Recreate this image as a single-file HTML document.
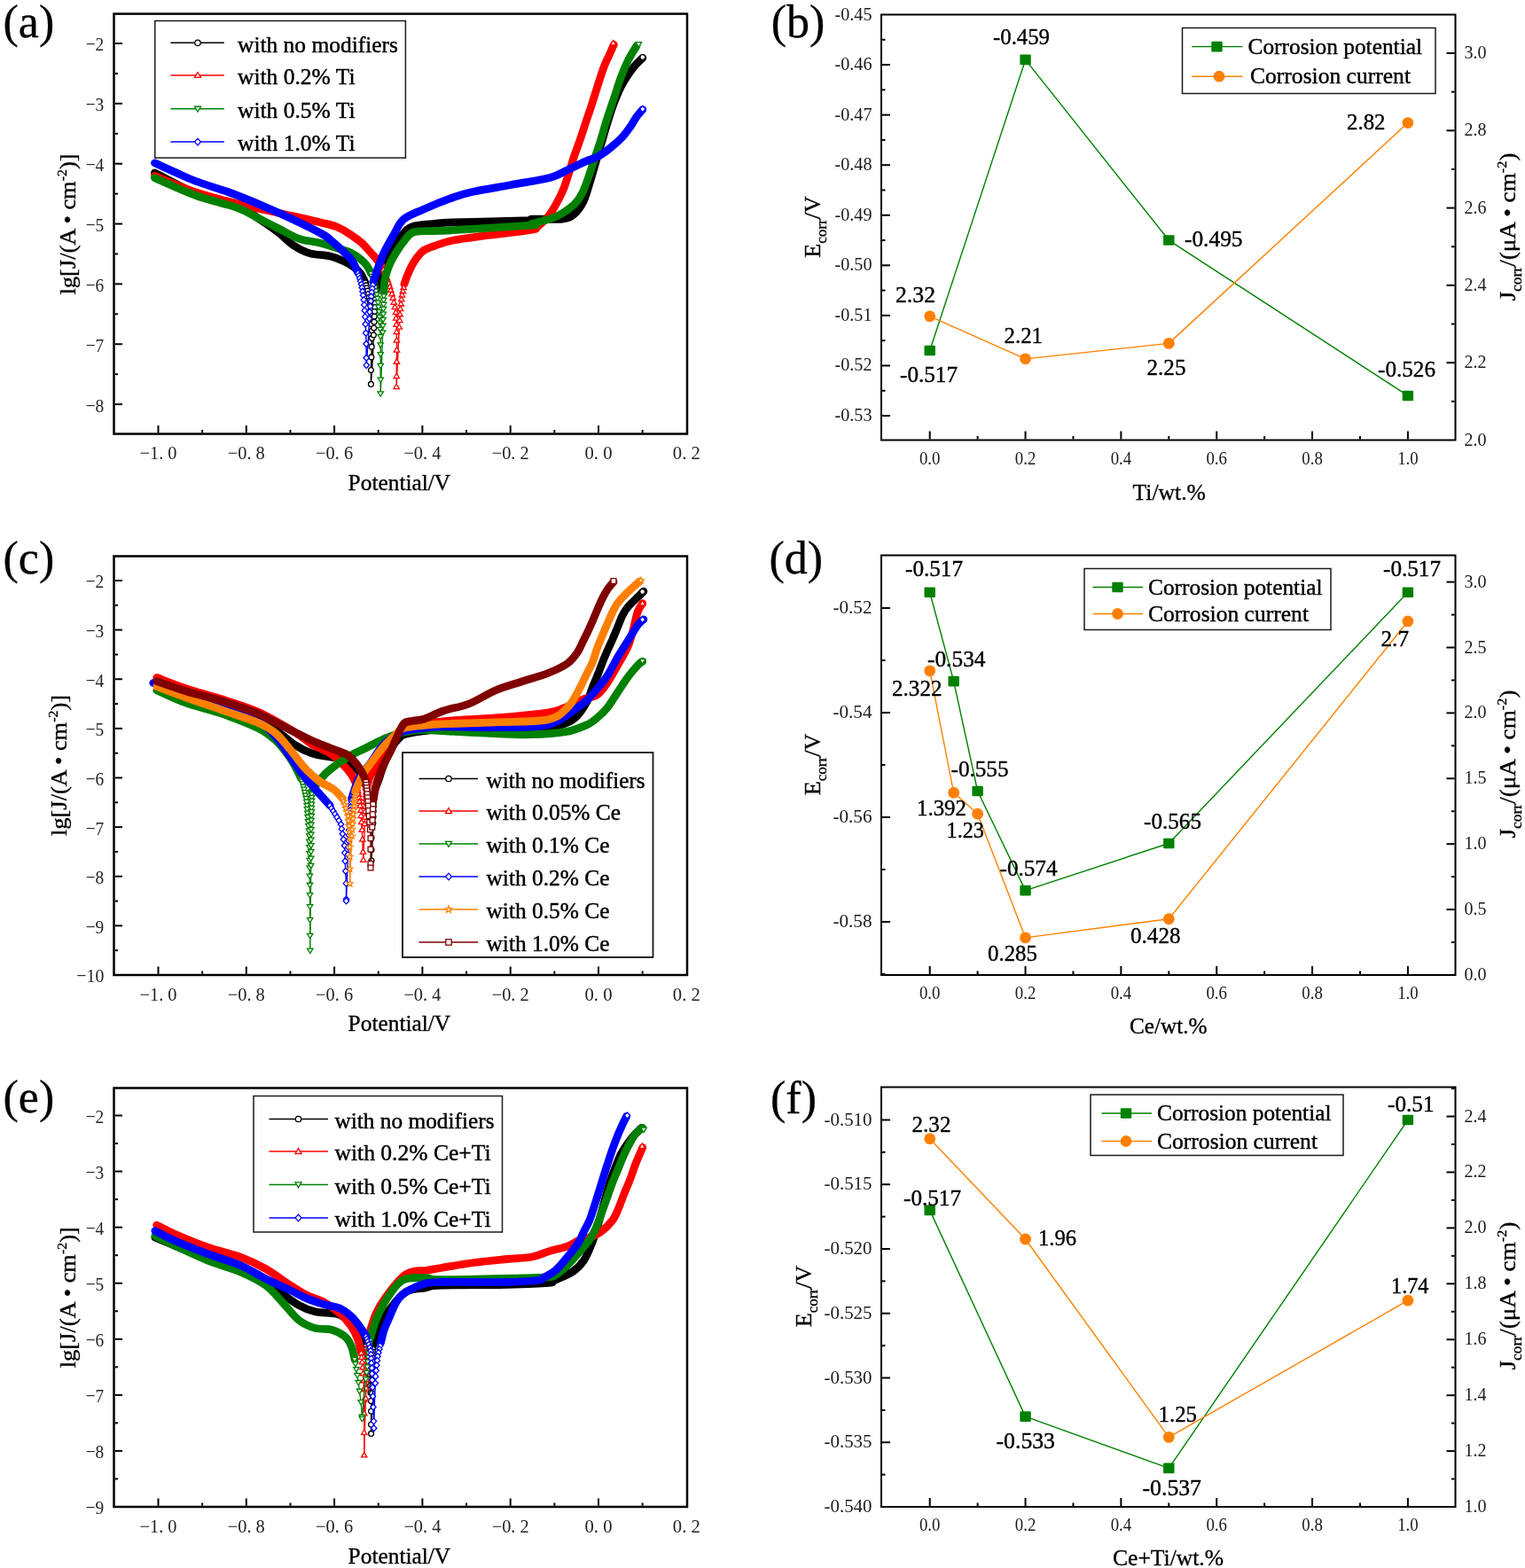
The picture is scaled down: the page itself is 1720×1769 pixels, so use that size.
<!DOCTYPE html><html><head><meta charset="utf-8"><style>html,body{margin:0;padding:0;background:#fff;}svg{display:block;}</style></head><body><svg width="1720" height="1769" viewBox="0 0 1720 1769"><rect x="128.5" y="15.6" width="646.5" height="473.9" fill="none" stroke="#000" stroke-width="2.5"/><line x1="129.7" y1="456.1" x2="138" y2="456.1" stroke="#000" stroke-width="2"/><text x="117.3" y="464.5" font-size="22" font-family="'Liberation Serif', 'Times New Roman', serif" fill="#222" text-anchor="end" textLength="20.6" lengthAdjust="spacingAndGlyphs">−8</text><line x1="129.7" y1="422.17" x2="133" y2="422.17" stroke="#000" stroke-width="2"/><line x1="129.7" y1="388.25" x2="138" y2="388.25" stroke="#000" stroke-width="2"/><text x="117.3" y="396.65" font-size="22" font-family="'Liberation Serif', 'Times New Roman', serif" fill="#222" text-anchor="end" textLength="20.6" lengthAdjust="spacingAndGlyphs">−7</text><line x1="129.7" y1="354.32" x2="133" y2="354.32" stroke="#000" stroke-width="2"/><line x1="129.7" y1="320.4" x2="138" y2="320.4" stroke="#000" stroke-width="2"/><text x="117.3" y="328.8" font-size="22" font-family="'Liberation Serif', 'Times New Roman', serif" fill="#222" text-anchor="end" textLength="20.6" lengthAdjust="spacingAndGlyphs">−6</text><line x1="129.7" y1="286.47" x2="133" y2="286.47" stroke="#000" stroke-width="2"/><line x1="129.7" y1="252.55" x2="138" y2="252.55" stroke="#000" stroke-width="2"/><text x="117.3" y="260.95" font-size="22" font-family="'Liberation Serif', 'Times New Roman', serif" fill="#222" text-anchor="end" textLength="20.6" lengthAdjust="spacingAndGlyphs">−5</text><line x1="129.7" y1="218.62" x2="133" y2="218.62" stroke="#000" stroke-width="2"/><line x1="129.7" y1="184.7" x2="138" y2="184.7" stroke="#000" stroke-width="2"/><text x="117.3" y="193.1" font-size="22" font-family="'Liberation Serif', 'Times New Roman', serif" fill="#222" text-anchor="end" textLength="20.6" lengthAdjust="spacingAndGlyphs">−4</text><line x1="129.7" y1="150.77" x2="133" y2="150.77" stroke="#000" stroke-width="2"/><line x1="129.7" y1="116.85" x2="138" y2="116.85" stroke="#000" stroke-width="2"/><text x="117.3" y="125.25" font-size="22" font-family="'Liberation Serif', 'Times New Roman', serif" fill="#222" text-anchor="end" textLength="20.6" lengthAdjust="spacingAndGlyphs">−3</text><line x1="129.7" y1="82.92" x2="133" y2="82.92" stroke="#000" stroke-width="2"/><line x1="129.7" y1="49" x2="138" y2="49" stroke="#000" stroke-width="2"/><text x="117.3" y="57.4" font-size="22" font-family="'Liberation Serif', 'Times New Roman', serif" fill="#222" text-anchor="end" textLength="20.6" lengthAdjust="spacingAndGlyphs">−2</text><line x1="178.5" y1="488.3" x2="178.5" y2="480" stroke="#000" stroke-width="2"/><text x="178.5" y="517.8" font-size="21" font-family="'Liberation Serif', 'Times New Roman', serif" fill="#222" text-anchor="middle" textLength="42" lengthAdjust="spacingAndGlyphs">−1. 0</text><line x1="228.15" y1="488.3" x2="228.15" y2="485" stroke="#000" stroke-width="2"/><line x1="277.8" y1="488.3" x2="277.8" y2="480" stroke="#000" stroke-width="2"/><text x="277.8" y="517.8" font-size="21" font-family="'Liberation Serif', 'Times New Roman', serif" fill="#222" text-anchor="middle" textLength="42" lengthAdjust="spacingAndGlyphs">−0. 8</text><line x1="327.45" y1="488.3" x2="327.45" y2="485" stroke="#000" stroke-width="2"/><line x1="377.1" y1="488.3" x2="377.1" y2="480" stroke="#000" stroke-width="2"/><text x="377.1" y="517.8" font-size="21" font-family="'Liberation Serif', 'Times New Roman', serif" fill="#222" text-anchor="middle" textLength="42" lengthAdjust="spacingAndGlyphs">−0. 6</text><line x1="426.75" y1="488.3" x2="426.75" y2="485" stroke="#000" stroke-width="2"/><line x1="476.4" y1="488.3" x2="476.4" y2="480" stroke="#000" stroke-width="2"/><text x="476.4" y="517.8" font-size="21" font-family="'Liberation Serif', 'Times New Roman', serif" fill="#222" text-anchor="middle" textLength="42" lengthAdjust="spacingAndGlyphs">−0. 4</text><line x1="526.05" y1="488.3" x2="526.05" y2="485" stroke="#000" stroke-width="2"/><line x1="575.7" y1="488.3" x2="575.7" y2="480" stroke="#000" stroke-width="2"/><text x="575.7" y="517.8" font-size="21" font-family="'Liberation Serif', 'Times New Roman', serif" fill="#222" text-anchor="middle" textLength="42" lengthAdjust="spacingAndGlyphs">−0. 2</text><line x1="625.35" y1="488.3" x2="625.35" y2="485" stroke="#000" stroke-width="2"/><line x1="675" y1="488.3" x2="675" y2="480" stroke="#000" stroke-width="2"/><text x="675" y="517.8" font-size="21" font-family="'Liberation Serif', 'Times New Roman', serif" fill="#222" text-anchor="middle" textLength="31" lengthAdjust="spacingAndGlyphs">0. 0</text><line x1="724.65" y1="488.3" x2="724.65" y2="485" stroke="#000" stroke-width="2"/><text x="774.3" y="517.8" font-size="21" font-family="'Liberation Serif', 'Times New Roman', serif" fill="#222" text-anchor="middle" textLength="31" lengthAdjust="spacingAndGlyphs">0. 2</text><text transform="translate(85.3,253) rotate(-90)" x="0" y="0" font-size="25" font-family="'Liberation Serif', 'Times New Roman', serif" text-anchor="middle" stroke="#000" stroke-width="0.35" textLength="159" lengthAdjust="spacingAndGlyphs">lg[J/(A • cm<tspan font-size="15" dy="-10">-2</tspan><tspan dy="10">)]</tspan></text><text x="392.6" y="552.7" font-size="25.5" font-family="'Liberation Serif', 'Times New Roman', serif" fill="#000" stroke="#000" stroke-width="0.35" textLength="115.6" lengthAdjust="spacingAndGlyphs">Potential/V</text><text x="3.5" y="42" font-size="52" font-family="'Liberation Serif', 'Times New Roman', serif" fill="#000" stroke="#000" stroke-width="0.3">(a)</text><path d="M174.5,194.9 C182.25,198.75 205.5,211.82 221,218 C236.5,224.18 255.87,227.33 267.5,232 C279.13,236.67 283.05,240.95 290.8,246 C298.55,251.05 307.42,257.25 314,262.3 C320.58,267.35 324.48,272.42 330.3,276.3 C336.12,280.18 341.92,283.48 348.9,285.6 C355.88,287.72 365.6,287.45 372.2,289 C378.8,290.55 383.87,292.73 388.5,294.9 C393.13,297.07 396.92,299.65 400,302 C403.08,304.35 405,306.17 407,309 C409,311.83 411.17,317.33 412,319" fill="none" stroke="#000000" stroke-width="8.8" stroke-linejoin="round" stroke-linecap="round"/><path d="M424,328 C424.67,325.33 426.1,318.03 428,312 C429.9,305.97 432.4,297.97 435.4,291.8 C438.4,285.63 442.33,280.17 446,275 C449.67,269.83 454.02,264.08 457.4,260.8 C460.78,257.52 460.87,256.68 466.3,255.3 C471.73,253.92 482.63,253.23 490,252.5 C497.37,251.77 492.37,251.53 510.5,250.9 C528.63,250.27 583.88,249.33 598.8,248.7 C613.72,248.07 594.15,247.37 600,247.1 C605.85,246.83 625.98,248.02 633.9,247.1 C641.82,246.18 643.43,245 647.5,241.6 C651.57,238.2 655.37,232.57 658.3,226.7 C661.23,220.83 662.83,213.63 665.1,206.4 C667.37,199.17 669.63,191 671.9,183.3 C674.17,175.6 676.43,167.88 678.7,160.2 C680.97,152.52 683.23,144.43 685.5,137.2 C687.77,129.97 689.82,123.37 692.3,116.8 C694.78,110.23 697.7,103.22 700.4,97.8 C703.1,92.38 705.78,88.37 708.5,84.3 C711.22,80.23 713.98,76.57 716.7,73.4 C719.42,70.23 723.45,66.65 724.8,65.3" fill="none" stroke="#000000" stroke-width="8.8" stroke-linejoin="round" stroke-linecap="round"/><path d="M412,319 L416,333 L418.5,350 L419.5,375 L419,400 L418.4,417 L418.4,433.4 L420.3,405 L421.5,375 L422.5,350 L424,330" fill="none" stroke="#000000" stroke-width="1.4" stroke-linejoin="round" stroke-linecap="round"/><circle cx="412" cy="319" r="2.9" fill="#fff" stroke="#000000" stroke-width="1.3"/><circle cx="412.82" cy="321.88" r="2.9" fill="#fff" stroke="#000000" stroke-width="1.3"/><circle cx="413.69" cy="324.93" r="2.9" fill="#fff" stroke="#000000" stroke-width="1.3"/><circle cx="414.62" cy="328.16" r="2.9" fill="#fff" stroke="#000000" stroke-width="1.3"/><circle cx="415.6" cy="331.59" r="2.9" fill="#fff" stroke="#000000" stroke-width="1.3"/><circle cx="416.34" cy="335.31" r="2.9" fill="#fff" stroke="#000000" stroke-width="1.3"/><circle cx="416.93" cy="339.35" r="2.9" fill="#fff" stroke="#000000" stroke-width="1.3"/><circle cx="417.57" cy="343.7" r="2.9" fill="#fff" stroke="#000000" stroke-width="1.3"/><circle cx="418.27" cy="348.44" r="2.9" fill="#fff" stroke="#000000" stroke-width="1.3"/><circle cx="418.65" cy="353.65" r="2.9" fill="#fff" stroke="#000000" stroke-width="1.3"/><circle cx="418.88" cy="359.41" r="2.9" fill="#fff" stroke="#000000" stroke-width="1.3"/><circle cx="419.13" cy="365.84" r="2.9" fill="#fff" stroke="#000000" stroke-width="1.3"/><circle cx="419.42" cy="373.1" r="2.9" fill="#fff" stroke="#000000" stroke-width="1.3"/><circle cx="419.37" cy="381.42" r="2.9" fill="#fff" stroke="#000000" stroke-width="1.3"/><circle cx="419.18" cy="391.17" r="2.9" fill="#fff" stroke="#000000" stroke-width="1.3"/><circle cx="418.9" cy="402.88" r="2.9" fill="#fff" stroke="#000000" stroke-width="1.3"/><circle cx="418.4" cy="417.48" r="2.9" fill="#fff" stroke="#000000" stroke-width="1.3"/><circle cx="423.72" cy="333.68" r="2.9" fill="#fff" stroke="#000000" stroke-width="1.3"/><circle cx="423.43" cy="337.63" r="2.9" fill="#fff" stroke="#000000" stroke-width="1.3"/><circle cx="423.11" cy="341.88" r="2.9" fill="#fff" stroke="#000000" stroke-width="1.3"/><circle cx="422.76" cy="346.49" r="2.9" fill="#fff" stroke="#000000" stroke-width="1.3"/><circle cx="422.44" cy="351.52" r="2.9" fill="#fff" stroke="#000000" stroke-width="1.3"/><circle cx="422.22" cy="357.06" r="2.9" fill="#fff" stroke="#000000" stroke-width="1.3"/><circle cx="421.97" cy="363.2" r="2.9" fill="#fff" stroke="#000000" stroke-width="1.3"/><circle cx="421.7" cy="370.11" r="2.9" fill="#fff" stroke="#000000" stroke-width="1.3"/><circle cx="421.38" cy="377.98" r="2.9" fill="#fff" stroke="#000000" stroke-width="1.3"/><circle cx="418.4" cy="433.4" r="2.9" fill="#fff" stroke="#000000" stroke-width="1.3"/><circle cx="724.8" cy="64.5" r="2.9" fill="#fff" stroke="#000000" stroke-width="1.3"/><path d="M174.5,198.4 C182.25,201.5 205.5,211.77 221,217 C236.5,222.23 252,225.93 267.5,229.8 C283,233.67 298.48,236.72 314,240.2 C329.52,243.68 349.6,248.07 360.6,250.7 C371.6,253.33 374.2,253.67 380,256 C385.8,258.33 390.73,261.7 395.4,264.7 C400.07,267.7 404.12,270.52 408,274 C411.88,277.48 415.7,282.27 418.7,285.6 C421.7,288.93 423.67,290.9 426,294 C428.33,297.1 431.58,302.5 432.7,304.2" fill="none" stroke="#ff0000" stroke-width="8.8" stroke-linejoin="round" stroke-linecap="round"/><path d="M455.9,320.5 C456.42,319.08 457.65,315.32 459,312 C460.35,308.68 462.17,304.1 464,300.6 C465.83,297.1 467.78,293.93 470,291 C472.22,288.07 473.97,285.25 477.3,283 C480.63,280.75 484.47,279.47 490,277.5 C495.53,275.53 500.5,273.2 510.5,271.2 C520.5,269.2 535.28,267.45 550,265.5 C564.72,263.55 589.33,261.22 598.8,259.5 C608.27,257.78 603.22,258.18 606.8,255.2 C610.38,252.22 615.78,247.93 620.3,241.6 C624.82,235.27 630.5,224.43 633.9,217.2 C637.3,209.97 638.43,204.98 640.7,198.2 C642.97,191.42 645.23,183.28 647.5,176.5 C649.77,169.72 652.05,164.05 654.3,157.5 C656.55,150.95 658.75,143.98 661,137.2 C663.25,130.42 665.53,123.82 667.8,116.8 C670.07,109.78 672.33,102.1 674.6,95.1 C676.87,88.1 679.13,80.68 681.4,74.8 C683.67,68.92 686.38,63.87 688.2,59.8 C690.02,55.73 691.62,51.97 692.3,50.4" fill="none" stroke="#ff0000" stroke-width="8.8" stroke-linejoin="round" stroke-linecap="round"/><path d="M432.7,304.2 L436,312 L439.6,322.8 L443,335 L446.3,350.7 L447.3,370 L447.5,392.6 L447.3,414 L447.2,436.3 L448.8,400 L450,375 L451.3,350.7 L453,335 L455.9,320.5" fill="none" stroke="#ff0000" stroke-width="1.4" stroke-linejoin="round" stroke-linecap="round"/><path d="M432.7,301.15 L435.89,306.52 L429.51,306.52 Z" fill="#fff" stroke="#ff0000" stroke-width="1.3"/><path d="M433.87,303.92 L437.06,309.28 L430.68,309.28 Z" fill="#fff" stroke="#ff0000" stroke-width="1.3"/><path d="M435.09,306.81 L438.28,312.17 L431.9,312.17 Z" fill="#fff" stroke="#ff0000" stroke-width="1.3"/><path d="M436.3,309.87 L439.49,315.23 L433.11,315.23 Z" fill="#fff" stroke="#ff0000" stroke-width="1.3"/><path d="M437.4,313.15 L440.59,318.51 L434.21,318.51 Z" fill="#fff" stroke="#ff0000" stroke-width="1.3"/><path d="M438.55,316.61 L441.74,321.97 L435.36,321.97 Z" fill="#fff" stroke="#ff0000" stroke-width="1.3"/><path d="M439.75,320.28 L442.94,325.65 L436.56,325.65 Z" fill="#fff" stroke="#ff0000" stroke-width="1.3"/><path d="M440.85,324.23 L444.04,329.6 L437.66,329.6 Z" fill="#fff" stroke="#ff0000" stroke-width="1.3"/><path d="M442.02,328.45 L445.21,333.81 L438.83,333.81 Z" fill="#fff" stroke="#ff0000" stroke-width="1.3"/><path d="M443.21,332.98 L446.4,338.34 L440.02,338.34 Z" fill="#fff" stroke="#ff0000" stroke-width="1.3"/><path d="M444.25,337.92 L447.44,343.28 L441.06,343.28 Z" fill="#fff" stroke="#ff0000" stroke-width="1.3"/><path d="M445.38,343.27 L448.57,348.64 L442.19,348.64 Z" fill="#fff" stroke="#ff0000" stroke-width="1.3"/><path d="M446.38,349.15 L449.57,354.51 L443.19,354.51 Z" fill="#fff" stroke="#ff0000" stroke-width="1.3"/><path d="M446.72,355.71 L449.91,361.08 L443.53,361.08 Z" fill="#fff" stroke="#ff0000" stroke-width="1.3"/><path d="M447.1,363.02 L450.29,368.38 L443.91,368.38 Z" fill="#fff" stroke="#ff0000" stroke-width="1.3"/><path d="M447.34,371.26 L450.53,376.63 L444.15,376.63 Z" fill="#fff" stroke="#ff0000" stroke-width="1.3"/><path d="M447.42,380.7 L450.61,386.06 L444.23,386.06 Z" fill="#fff" stroke="#ff0000" stroke-width="1.3"/><path d="M447.48,391.71 L450.67,397.07 L444.29,397.07 Z" fill="#fff" stroke="#ff0000" stroke-width="1.3"/><path d="M447.36,404.89 L450.55,410.26 L444.17,410.26 Z" fill="#fff" stroke="#ff0000" stroke-width="1.3"/><path d="M447.25,421.25 L450.44,426.61 L444.06,426.61 Z" fill="#fff" stroke="#ff0000" stroke-width="1.3"/><path d="M455.13,321.29 L458.32,326.66 L451.94,326.66 Z" fill="#fff" stroke="#ff0000" stroke-width="1.3"/><path d="M454.31,325.38 L457.5,330.75 L451.12,330.75 Z" fill="#fff" stroke="#ff0000" stroke-width="1.3"/><path d="M453.44,329.76 L456.63,335.12 L450.25,335.12 Z" fill="#fff" stroke="#ff0000" stroke-width="1.3"/><path d="M452.73,334.48 L455.92,339.85 L449.54,339.85 Z" fill="#fff" stroke="#ff0000" stroke-width="1.3"/><path d="M452.17,339.63 L455.36,344.99 L448.98,344.99 Z" fill="#fff" stroke="#ff0000" stroke-width="1.3"/><path d="M451.56,345.22 L454.75,350.59 L448.37,350.59 Z" fill="#fff" stroke="#ff0000" stroke-width="1.3"/><path d="M451.1,351.37 L454.29,356.73 L447.91,356.73 Z" fill="#fff" stroke="#ff0000" stroke-width="1.3"/><path d="M450.74,358.18 L453.93,363.54 L447.55,363.54 Z" fill="#fff" stroke="#ff0000" stroke-width="1.3"/><path d="M450.33,365.78 L453.52,371.15 L447.14,371.15 Z" fill="#fff" stroke="#ff0000" stroke-width="1.3"/><path d="M447.2,433.25 L450.39,438.62 L444.01,438.62 Z" fill="#fff" stroke="#ff0000" stroke-width="1.3"/><path d="M691.6,45.45 L694.79,50.82 L688.41,50.82 Z" fill="#fff" stroke="#ff0000" stroke-width="1.3"/><path d="M174.5,200.7 C182.25,204 205.5,214.88 221,220.5 C236.5,226.12 255.87,230.15 267.5,234.4 C279.13,238.65 283.05,242.12 290.8,246 C298.55,249.88 306.25,253.82 314,257.7 C321.75,261.58 329.53,266.58 337.3,269.3 C345.07,272.02 352.85,272.05 360.6,274 C368.35,275.95 377.73,279 383.8,281 C389.87,283 393.13,284.07 397,286 C400.87,287.93 404.17,290.27 407,292.6 C409.83,294.93 412.05,297.3 414,300 C415.95,302.7 417.92,307.33 418.7,308.8" fill="none" stroke="#008000" stroke-width="8.8" stroke-linejoin="round" stroke-linecap="round"/><path d="M433,330 C433.17,327.67 433.17,320.67 434,316 C434.83,311.33 436.33,306.42 438,302 C439.67,297.58 441.17,294.33 444,289.5 C446.83,284.67 451.28,277.58 455,273 C458.72,268.42 460.47,264.08 466.3,262 C472.13,259.92 482.63,260.88 490,260.5 C497.37,260.12 492.37,260.75 510.5,259.7 C528.63,258.65 583.88,255.4 598.8,254.2 C613.72,253 595.28,254.13 600,252.5 C604.72,250.87 619.18,248.02 627.1,244.4 C635.02,240.78 642.52,235.33 647.5,230.8 C652.48,226.27 654.28,222.4 657,217.2 C659.72,212 661.55,205.93 663.8,199.6 C666.05,193.27 668.25,185.98 670.5,179.2 C672.75,172.42 675.03,166.13 677.3,158.9 C679.57,151.67 681.6,143.72 684.1,135.8 C686.6,127.88 689.58,119.53 692.3,111.4 C695.02,103.27 697.7,94.23 700.4,87 C703.1,79.77 705.57,73.88 708.5,68 C711.43,62.12 716.42,54.42 718,51.7" fill="none" stroke="#008000" stroke-width="8.8" stroke-linejoin="round" stroke-linecap="round"/><path d="M418.7,308.8 L422,320 L425.5,334.4 L428,355 L429.2,380 L429.2,419 L429.2,444.2 L430.5,410 L431.5,380 L432.5,350 L433,330" fill="none" stroke="#008000" stroke-width="1.4" stroke-linejoin="round" stroke-linecap="round"/><path d="M418.7,311.85 L421.89,306.48 L415.51,306.48 Z" fill="#fff" stroke="#008000" stroke-width="1.3"/><path d="M419.55,314.72 L422.74,309.36 L416.36,309.36 Z" fill="#fff" stroke="#008000" stroke-width="1.3"/><path d="M420.44,317.74 L423.63,312.37 L417.25,312.37 Z" fill="#fff" stroke="#008000" stroke-width="1.3"/><path d="M421.37,320.9 L424.56,315.53 L418.18,315.53 Z" fill="#fff" stroke="#008000" stroke-width="1.3"/><path d="M422.29,324.24 L425.48,318.87 L419.1,318.87 Z" fill="#fff" stroke="#008000" stroke-width="1.3"/><path d="M423.15,327.79 L426.34,322.42 L419.96,322.42 Z" fill="#fff" stroke="#008000" stroke-width="1.3"/><path d="M424.07,331.55 L427.26,326.18 L420.88,326.18 Z" fill="#fff" stroke="#008000" stroke-width="1.3"/><path d="M425.04,335.54 L428.23,330.17 L421.85,330.17 Z" fill="#fff" stroke="#008000" stroke-width="1.3"/><path d="M425.79,339.84 L428.98,334.48 L422.6,334.48 Z" fill="#fff" stroke="#008000" stroke-width="1.3"/><path d="M426.36,344.5 L429.55,339.13 L423.17,339.13 Z" fill="#fff" stroke="#008000" stroke-width="1.3"/><path d="M426.96,349.51 L430.15,344.15 L423.77,344.15 Z" fill="#fff" stroke="#008000" stroke-width="1.3"/><path d="M427.62,354.94 L430.81,349.58 L424.43,349.58 Z" fill="#fff" stroke="#008000" stroke-width="1.3"/><path d="M428.14,360.88 L431.33,355.52 L424.95,355.52 Z" fill="#fff" stroke="#008000" stroke-width="1.3"/><path d="M428.45,367.43 L431.64,362.07 L425.26,362.07 Z" fill="#fff" stroke="#008000" stroke-width="1.3"/><path d="M428.8,374.7 L431.99,369.34 L425.61,369.34 Z" fill="#fff" stroke="#008000" stroke-width="1.3"/><path d="M429.19,382.87 L432.38,377.51 L426,377.51 Z" fill="#fff" stroke="#008000" stroke-width="1.3"/><path d="M429.2,392.18 L432.39,386.82 L426.01,386.82 Z" fill="#fff" stroke="#008000" stroke-width="1.3"/><path d="M429.2,402.99 L432.39,397.62 L426.01,397.62 Z" fill="#fff" stroke="#008000" stroke-width="1.3"/><path d="M429.2,415.82 L432.39,410.46 L426.01,410.46 Z" fill="#fff" stroke="#008000" stroke-width="1.3"/><path d="M429.2,431.57 L432.39,426.21 L426.01,426.21 Z" fill="#fff" stroke="#008000" stroke-width="1.3"/><path d="M432.89,337.25 L436.08,331.89 L429.7,331.89 Z" fill="#fff" stroke="#008000" stroke-width="1.3"/><path d="M432.78,341.75 L435.97,336.38 L429.59,336.38 Z" fill="#fff" stroke="#008000" stroke-width="1.3"/><path d="M432.66,346.58 L435.85,341.21 L429.47,341.21 Z" fill="#fff" stroke="#008000" stroke-width="1.3"/><path d="M432.53,351.8 L435.72,346.43 L429.34,346.43 Z" fill="#fff" stroke="#008000" stroke-width="1.3"/><path d="M432.35,357.47 L435.54,352.1 L429.16,352.1 Z" fill="#fff" stroke="#008000" stroke-width="1.3"/><path d="M432.15,363.68 L435.34,358.31 L428.96,358.31 Z" fill="#fff" stroke="#008000" stroke-width="1.3"/><path d="M431.92,370.53 L435.11,365.16 L428.73,365.16 Z" fill="#fff" stroke="#008000" stroke-width="1.3"/><path d="M431.66,378.17 L434.85,372.81 L428.47,372.81 Z" fill="#fff" stroke="#008000" stroke-width="1.3"/><path d="M429.2,447.25 L432.39,441.88 L426.01,441.88 Z" fill="#fff" stroke="#008000" stroke-width="1.3"/><path d="M720.4,53.05 L723.59,47.68 L717.21,47.68 Z" fill="#fff" stroke="#008000" stroke-width="1.3"/><path d="M174.5,183.8 C178.42,185.58 190.25,191.05 198,194.5 C205.75,197.95 209.42,200.2 221,204.5 C232.58,208.8 252,214.38 267.5,220.3 C283,226.22 298.48,232.97 314,240 C329.52,247.03 350.68,257.25 360.6,262.5 C370.52,267.75 368.93,267.83 373.5,271.5 C378.07,275.17 384.08,280.75 388,284.5 C391.92,288.25 394.33,290.08 397,294 C399.67,297.92 402.83,305.67 404,308" fill="none" stroke="#0000ff" stroke-width="8.8" stroke-linejoin="round" stroke-linecap="round"/><path d="M421,318 C421.78,315.67 423.7,309.5 425.7,304 C427.7,298.5 429.95,291.5 433,285 C436.05,278.5 440.33,271.23 444,265 C447.67,258.77 449.5,252.35 455,247.6 C460.5,242.85 467.75,240.6 477,236.5 C486.25,232.4 501.23,226.33 510.5,223 C519.77,219.67 521.57,218.92 532.6,216.5 C543.63,214.08 562.08,211.17 576.7,208.5 C591.32,205.83 609.63,203.35 620.3,200.5 C630.97,197.65 633.92,194.5 640.7,191.4 C647.48,188.3 655.35,184.38 661,181.9 C666.65,179.42 670.07,178.98 674.6,176.5 C679.13,174.02 683.67,170.62 688.2,167 C692.73,163.38 697.97,158.87 701.8,154.8 C705.63,150.73 708.5,146.45 711.2,142.6 C713.9,138.75 715.73,134.87 718,131.7 C720.27,128.53 723.67,124.95 724.8,123.6" fill="none" stroke="#0000ff" stroke-width="8.8" stroke-linejoin="round" stroke-linecap="round"/><path d="M404,308 L408,322 L410.5,340 L412,360 L413,385 L413.3,412 L415.5,380 L417,352 L419,332 L421,318" fill="none" stroke="#0000ff" stroke-width="1.4" stroke-linejoin="round" stroke-linecap="round"/><path d="M404,304.52 L407.19,308 L404,311.48 L400.81,308 Z" fill="#fff" stroke="#0000ff" stroke-width="1.3"/><path d="M404.82,307.4 L408.01,310.88 L404.82,314.36 L401.63,310.88 Z" fill="#fff" stroke="#0000ff" stroke-width="1.3"/><path d="M405.7,310.47 L408.89,313.95 L405.7,317.43 L402.51,313.95 Z" fill="#fff" stroke="#0000ff" stroke-width="1.3"/><path d="M406.63,313.73 L409.82,317.21 L406.63,320.69 L403.44,317.21 Z" fill="#fff" stroke="#0000ff" stroke-width="1.3"/><path d="M407.63,317.22 L410.82,320.7 L407.63,324.18 L404.44,320.7 Z" fill="#fff" stroke="#0000ff" stroke-width="1.3"/><path d="M408.35,321.05 L411.54,324.53 L408.35,328.01 L405.16,324.53 Z" fill="#fff" stroke="#0000ff" stroke-width="1.3"/><path d="M408.93,325.24 L412.12,328.72 L408.93,332.2 L405.74,328.72 Z" fill="#fff" stroke="#0000ff" stroke-width="1.3"/><path d="M409.57,329.81 L412.76,333.29 L409.57,336.77 L406.38,333.29 Z" fill="#fff" stroke="#0000ff" stroke-width="1.3"/><path d="M410.27,334.83 L413.46,338.31 L410.27,341.79 L407.08,338.31 Z" fill="#fff" stroke="#0000ff" stroke-width="1.3"/><path d="M410.79,340.44 L413.98,343.92 L410.79,347.4 L407.6,343.92 Z" fill="#fff" stroke="#0000ff" stroke-width="1.3"/><path d="M411.27,346.74 L414.46,350.22 L411.27,353.7 L408.08,350.22 Z" fill="#fff" stroke="#0000ff" stroke-width="1.3"/><path d="M411.81,353.93 L415,357.41 L411.81,360.89 L408.62,357.41 Z" fill="#fff" stroke="#0000ff" stroke-width="1.3"/><path d="M412.23,362.29 L415.42,365.77 L412.23,369.25 L409.04,365.77 Z" fill="#fff" stroke="#0000ff" stroke-width="1.3"/><path d="M412.63,372.24 L415.82,375.72 L412.63,379.2 L409.44,375.72 Z" fill="#fff" stroke="#0000ff" stroke-width="1.3"/><path d="M413.03,384.47 L416.22,387.95 L413.03,391.43 L409.84,387.95 Z" fill="#fff" stroke="#0000ff" stroke-width="1.3"/><path d="M413.21,400.25 L416.4,403.73 L413.21,407.21 L410.02,403.73 Z" fill="#fff" stroke="#0000ff" stroke-width="1.3"/><path d="M420.48,318.18 L423.67,321.66 L420.48,325.14 L417.29,321.66 Z" fill="#fff" stroke="#0000ff" stroke-width="1.3"/><path d="M419.91,322.12 L423.1,325.6 L419.91,329.08 L416.72,325.6 Z" fill="#fff" stroke="#0000ff" stroke-width="1.3"/><path d="M419.3,326.4 L422.49,329.88 L419.3,333.36 L416.11,329.88 Z" fill="#fff" stroke="#0000ff" stroke-width="1.3"/><path d="M418.74,331.09 L421.93,334.57 L418.74,338.05 L415.55,334.57 Z" fill="#fff" stroke="#0000ff" stroke-width="1.3"/><path d="M418.22,336.27 L421.41,339.75 L418.22,343.23 L415.03,339.75 Z" fill="#fff" stroke="#0000ff" stroke-width="1.3"/><path d="M417.65,342.04 L420.84,345.52 L417.65,349 L414.46,345.52 Z" fill="#fff" stroke="#0000ff" stroke-width="1.3"/><path d="M417,348.55 L420.19,352.03 L417,355.51 L413.81,352.03 Z" fill="#fff" stroke="#0000ff" stroke-width="1.3"/><path d="M416.6,356.02 L419.79,359.5 L416.6,362.98 L413.41,359.5 Z" fill="#fff" stroke="#0000ff" stroke-width="1.3"/><path d="M413.3,408.52 L416.49,412 L413.3,415.48 L410.11,412 Z" fill="#fff" stroke="#0000ff" stroke-width="1.3"/><path d="M724.8,119.52 L727.99,123 L724.8,126.48 L721.61,123 Z" fill="#fff" stroke="#0000ff" stroke-width="1.3"/><rect x="174.8" y="23.5" width="282.6" height="154.6" fill="none" stroke="#1a1a1a" stroke-width="1.5"/><line x1="192.4" y1="48.3" x2="252.8" y2="48.3" stroke="#000000" stroke-width="1.5"/><circle cx="223" cy="48.3" r="3.2" fill="#fff" stroke="#000000" stroke-width="1.3"/><text x="268" y="58.6" font-size="25.5" font-family="'Liberation Serif', 'Times New Roman', serif" fill="#000" stroke="#000" stroke-width="0.45" textLength="181" lengthAdjust="spacingAndGlyphs">with no modifiers</text><line x1="192.4" y1="84.9" x2="252.8" y2="84.9" stroke="#ff0000" stroke-width="1.5"/><path d="M223,81.54 L226.52,87.46 L219.48,87.46 Z" fill="#fff" stroke="#ff0000" stroke-width="1.3"/><text x="268" y="95.2" font-size="25.5" font-family="'Liberation Serif', 'Times New Roman', serif" fill="#000" stroke="#000" stroke-width="0.45" textLength="132.5" lengthAdjust="spacingAndGlyphs">with 0.2% Ti</text><line x1="192.4" y1="122.8" x2="252.8" y2="122.8" stroke="#008000" stroke-width="1.5"/><path d="M223,126.16 L226.52,120.24 L219.48,120.24 Z" fill="#fff" stroke="#008000" stroke-width="1.3"/><text x="268" y="133.1" font-size="25.5" font-family="'Liberation Serif', 'Times New Roman', serif" fill="#000" stroke="#000" stroke-width="0.45" textLength="132.5" lengthAdjust="spacingAndGlyphs">with 0.5% Ti</text><line x1="192.4" y1="160.1" x2="252.8" y2="160.1" stroke="#0000ff" stroke-width="1.5"/><path d="M223,156.26 L226.52,160.1 L223,163.94 L219.48,160.1 Z" fill="#fff" stroke="#0000ff" stroke-width="1.3"/><text x="268" y="170.4" font-size="25.5" font-family="'Liberation Serif', 'Times New Roman', serif" fill="#000" stroke="#000" stroke-width="0.45" textLength="132.5" lengthAdjust="spacingAndGlyphs">with 1.0% Ti</text><rect x="128.5" y="627.5" width="646.5" height="472.5" fill="none" stroke="#000" stroke-width="2.5"/><text x="117.3" y="1108.4" font-size="22" font-family="'Liberation Serif', 'Times New Roman', serif" fill="#222" text-anchor="end" textLength="31" lengthAdjust="spacingAndGlyphs">−10</text><line x1="129.7" y1="1072.19" x2="133" y2="1072.19" stroke="#000" stroke-width="2"/><line x1="129.7" y1="1044.38" x2="138" y2="1044.38" stroke="#000" stroke-width="2"/><text x="117.3" y="1052.78" font-size="22" font-family="'Liberation Serif', 'Times New Roman', serif" fill="#222" text-anchor="end" textLength="20.6" lengthAdjust="spacingAndGlyphs">−9</text><line x1="129.7" y1="1016.56" x2="133" y2="1016.56" stroke="#000" stroke-width="2"/><line x1="129.7" y1="988.75" x2="138" y2="988.75" stroke="#000" stroke-width="2"/><text x="117.3" y="997.15" font-size="22" font-family="'Liberation Serif', 'Times New Roman', serif" fill="#222" text-anchor="end" textLength="20.6" lengthAdjust="spacingAndGlyphs">−8</text><line x1="129.7" y1="960.94" x2="133" y2="960.94" stroke="#000" stroke-width="2"/><line x1="129.7" y1="933.12" x2="138" y2="933.12" stroke="#000" stroke-width="2"/><text x="117.3" y="941.52" font-size="22" font-family="'Liberation Serif', 'Times New Roman', serif" fill="#222" text-anchor="end" textLength="20.6" lengthAdjust="spacingAndGlyphs">−7</text><line x1="129.7" y1="905.31" x2="133" y2="905.31" stroke="#000" stroke-width="2"/><line x1="129.7" y1="877.5" x2="138" y2="877.5" stroke="#000" stroke-width="2"/><text x="117.3" y="885.9" font-size="22" font-family="'Liberation Serif', 'Times New Roman', serif" fill="#222" text-anchor="end" textLength="20.6" lengthAdjust="spacingAndGlyphs">−6</text><line x1="129.7" y1="849.69" x2="133" y2="849.69" stroke="#000" stroke-width="2"/><line x1="129.7" y1="821.88" x2="138" y2="821.88" stroke="#000" stroke-width="2"/><text x="117.3" y="830.27" font-size="22" font-family="'Liberation Serif', 'Times New Roman', serif" fill="#222" text-anchor="end" textLength="20.6" lengthAdjust="spacingAndGlyphs">−5</text><line x1="129.7" y1="794.06" x2="133" y2="794.06" stroke="#000" stroke-width="2"/><line x1="129.7" y1="766.25" x2="138" y2="766.25" stroke="#000" stroke-width="2"/><text x="117.3" y="774.65" font-size="22" font-family="'Liberation Serif', 'Times New Roman', serif" fill="#222" text-anchor="end" textLength="20.6" lengthAdjust="spacingAndGlyphs">−4</text><line x1="129.7" y1="738.44" x2="133" y2="738.44" stroke="#000" stroke-width="2"/><line x1="129.7" y1="710.62" x2="138" y2="710.62" stroke="#000" stroke-width="2"/><text x="117.3" y="719.02" font-size="22" font-family="'Liberation Serif', 'Times New Roman', serif" fill="#222" text-anchor="end" textLength="20.6" lengthAdjust="spacingAndGlyphs">−3</text><line x1="129.7" y1="682.81" x2="133" y2="682.81" stroke="#000" stroke-width="2"/><line x1="129.7" y1="655" x2="138" y2="655" stroke="#000" stroke-width="2"/><text x="117.3" y="663.4" font-size="22" font-family="'Liberation Serif', 'Times New Roman', serif" fill="#222" text-anchor="end" textLength="20.6" lengthAdjust="spacingAndGlyphs">−2</text><line x1="178.5" y1="1098.8" x2="178.5" y2="1090.5" stroke="#000" stroke-width="2"/><text x="178.5" y="1129" font-size="21" font-family="'Liberation Serif', 'Times New Roman', serif" fill="#222" text-anchor="middle" textLength="42" lengthAdjust="spacingAndGlyphs">−1. 0</text><line x1="228.15" y1="1098.8" x2="228.15" y2="1095.5" stroke="#000" stroke-width="2"/><line x1="277.8" y1="1098.8" x2="277.8" y2="1090.5" stroke="#000" stroke-width="2"/><text x="277.8" y="1129" font-size="21" font-family="'Liberation Serif', 'Times New Roman', serif" fill="#222" text-anchor="middle" textLength="42" lengthAdjust="spacingAndGlyphs">−0. 8</text><line x1="327.45" y1="1098.8" x2="327.45" y2="1095.5" stroke="#000" stroke-width="2"/><line x1="377.1" y1="1098.8" x2="377.1" y2="1090.5" stroke="#000" stroke-width="2"/><text x="377.1" y="1129" font-size="21" font-family="'Liberation Serif', 'Times New Roman', serif" fill="#222" text-anchor="middle" textLength="42" lengthAdjust="spacingAndGlyphs">−0. 6</text><line x1="426.75" y1="1098.8" x2="426.75" y2="1095.5" stroke="#000" stroke-width="2"/><line x1="476.4" y1="1098.8" x2="476.4" y2="1090.5" stroke="#000" stroke-width="2"/><text x="476.4" y="1129" font-size="21" font-family="'Liberation Serif', 'Times New Roman', serif" fill="#222" text-anchor="middle" textLength="42" lengthAdjust="spacingAndGlyphs">−0. 4</text><line x1="526.05" y1="1098.8" x2="526.05" y2="1095.5" stroke="#000" stroke-width="2"/><line x1="575.7" y1="1098.8" x2="575.7" y2="1090.5" stroke="#000" stroke-width="2"/><text x="575.7" y="1129" font-size="21" font-family="'Liberation Serif', 'Times New Roman', serif" fill="#222" text-anchor="middle" textLength="42" lengthAdjust="spacingAndGlyphs">−0. 2</text><line x1="625.35" y1="1098.8" x2="625.35" y2="1095.5" stroke="#000" stroke-width="2"/><line x1="675" y1="1098.8" x2="675" y2="1090.5" stroke="#000" stroke-width="2"/><text x="675" y="1129" font-size="21" font-family="'Liberation Serif', 'Times New Roman', serif" fill="#222" text-anchor="middle" textLength="31" lengthAdjust="spacingAndGlyphs">0. 0</text><line x1="724.65" y1="1098.8" x2="724.65" y2="1095.5" stroke="#000" stroke-width="2"/><text x="774.3" y="1129" font-size="21" font-family="'Liberation Serif', 'Times New Roman', serif" fill="#222" text-anchor="middle" textLength="31" lengthAdjust="spacingAndGlyphs">0. 2</text><text transform="translate(74.5,863.5) rotate(-90)" x="0" y="0" font-size="25" font-family="'Liberation Serif', 'Times New Roman', serif" text-anchor="middle" stroke="#000" stroke-width="0.35" textLength="159" lengthAdjust="spacingAndGlyphs">lg[J/(A • cm<tspan font-size="15" dy="-10">-2</tspan><tspan dy="10">)]</tspan></text><text x="392.6" y="1162.5" font-size="25.5" font-family="'Liberation Serif', 'Times New Roman', serif" fill="#000" stroke="#000" stroke-width="0.35" textLength="115.6" lengthAdjust="spacingAndGlyphs">Potential/V</text><text x="3.5" y="647" font-size="52" font-family="'Liberation Serif', 'Times New Roman', serif" fill="#000" stroke="#000" stroke-width="0.3">(c)</text><path d="M176.8,772.6 C182.23,774.28 197.18,778.97 209.4,782.7 C221.62,786.43 236.53,790.58 250.1,795 C263.67,799.42 280.62,804.47 290.8,809.2 C300.98,813.93 304.42,818.32 311.2,823.4 C317.98,828.48 324.73,835.28 331.5,839.7 C338.27,844.12 345.02,847.52 351.8,849.9 C358.58,852.28 365.75,852.65 372.2,854 C378.65,855.35 385.07,855.3 390.5,858 C395.93,860.7 401.07,865.45 404.8,870.2 C408.53,874.95 411.55,883.78 412.9,886.5" fill="none" stroke="#000000" stroke-width="8.8" stroke-linejoin="round" stroke-linecap="round"/><path d="M423,890 C423.67,888.33 425.33,884.67 427,880 C428.67,875.33 430.67,867.83 433,862 C435.33,856.17 438.17,849.83 441,845 C443.83,840.17 446.87,835.88 450,833 C453.13,830.12 451.58,829.42 459.8,827.7 C468.02,825.98 482.83,823.7 499.3,822.7 C515.77,821.7 538.83,822.03 558.6,821.7 C578.37,821.37 604.33,821.8 617.9,820.7 C631.47,819.6 634.43,817.35 640,815.1 C645.57,812.85 647.53,811.33 651.3,807.2 C655.07,803.07 659.78,795.57 662.6,790.3 C665.42,785.03 666.32,780.32 668.2,775.6 C670.08,770.88 672.02,766.72 673.9,762 C675.78,757.28 677.62,752 679.5,747.3 C681.38,742.6 683.32,738.12 685.2,733.8 C687.08,729.48 688.92,725.73 690.8,721.4 C692.68,717.07 694.62,712.33 696.5,707.8 C698.38,703.27 700.22,697.97 702.1,694.2 C703.98,690.43 704.97,688.58 707.8,685.2 C710.63,681.82 716.08,676.92 719.1,673.9 C722.12,670.88 724.77,668.23 725.9,667.1" fill="none" stroke="#000000" stroke-width="8.8" stroke-linejoin="round" stroke-linecap="round"/><path d="M412.9,886.5 L417,902.8 L419,940 L419,971 L420.5,940 L421.5,905 L423,890" fill="none" stroke="#000000" stroke-width="1.4" stroke-linejoin="round" stroke-linecap="round"/><circle cx="412.9" cy="886.5" r="2.9" fill="#fff" stroke="#000000" stroke-width="1.3"/><circle cx="413.63" cy="889.41" r="2.9" fill="#fff" stroke="#000000" stroke-width="1.3"/><circle cx="414.42" cy="892.54" r="2.9" fill="#fff" stroke="#000000" stroke-width="1.3"/><circle cx="415.27" cy="895.94" r="2.9" fill="#fff" stroke="#000000" stroke-width="1.3"/><circle cx="416.21" cy="899.64" r="2.9" fill="#fff" stroke="#000000" stroke-width="1.3"/><circle cx="417.05" cy="903.74" r="2.9" fill="#fff" stroke="#000000" stroke-width="1.3"/><circle cx="417.3" cy="908.39" r="2.9" fill="#fff" stroke="#000000" stroke-width="1.3"/><circle cx="417.58" cy="913.64" r="2.9" fill="#fff" stroke="#000000" stroke-width="1.3"/><circle cx="417.9" cy="919.63" r="2.9" fill="#fff" stroke="#000000" stroke-width="1.3"/><circle cx="418.28" cy="926.61" r="2.9" fill="#fff" stroke="#000000" stroke-width="1.3"/><circle cx="418.73" cy="934.96" r="2.9" fill="#fff" stroke="#000000" stroke-width="1.3"/><circle cx="419" cy="945.31" r="2.9" fill="#fff" stroke="#000000" stroke-width="1.3"/><circle cx="419" cy="958.79" r="2.9" fill="#fff" stroke="#000000" stroke-width="1.3"/><circle cx="422.67" cy="893.26" r="2.9" fill="#fff" stroke="#000000" stroke-width="1.3"/><circle cx="422.32" cy="896.81" r="2.9" fill="#fff" stroke="#000000" stroke-width="1.3"/><circle cx="421.93" cy="900.7" r="2.9" fill="#fff" stroke="#000000" stroke-width="1.3"/><circle cx="421.5" cy="904.99" r="2.9" fill="#fff" stroke="#000000" stroke-width="1.3"/><circle cx="421.36" cy="909.8" r="2.9" fill="#fff" stroke="#000000" stroke-width="1.3"/><circle cx="421.21" cy="915.24" r="2.9" fill="#fff" stroke="#000000" stroke-width="1.3"/><circle cx="421.03" cy="921.49" r="2.9" fill="#fff" stroke="#000000" stroke-width="1.3"/><circle cx="420.82" cy="928.82" r="2.9" fill="#fff" stroke="#000000" stroke-width="1.3"/><circle cx="419" cy="971" r="2.9" fill="#fff" stroke="#000000" stroke-width="1.3"/><circle cx="724.6" cy="667.6" r="2.9" fill="#fff" stroke="#000000" stroke-width="1.3"/><path d="M176.8,764.4 C182.23,766.43 197.18,772.53 209.4,776.6 C221.62,780.67 236.53,784.38 250.1,788.8 C263.67,793.22 277.23,796.98 290.8,803.1 C304.37,809.22 321.33,819.4 331.5,825.5 C341.67,831.6 345.02,835.63 351.8,839.7 C358.58,843.77 366.43,846.17 372.2,849.9 C377.97,853.63 382.33,858.03 386.4,862.1 C390.47,866.17 393.88,870.23 396.6,874.3 C399.32,878.37 401.68,884.47 402.7,886.5" fill="none" stroke="#ff0000" stroke-width="8.8" stroke-linejoin="round" stroke-linecap="round"/><path d="M413,890 C413.67,887.83 415.67,880.33 417,877 C418.33,873.67 418.83,873.67 421,870 C423.17,866.33 426.83,860.33 430,855 C433.17,849.67 435.03,843.87 440,838 C444.97,832.13 449.92,823.83 459.8,819.8 C469.68,815.77 482.83,815.45 499.3,813.8 C515.77,812.15 538.83,811.53 558.6,809.9 C578.37,808.27 604.72,805.98 617.9,804 C631.08,802.02 631.12,800.5 637.7,798 C644.28,795.5 651.37,791.42 657.4,789 C663.43,786.58 669.27,786.67 673.9,783.5 C678.53,780.33 681.43,775.47 685.2,770 C688.97,764.53 692.73,757.3 696.5,750.7 C700.27,744.1 704.98,736.62 707.8,730.4 C710.62,724.18 711.52,720 713.4,713.4 C715.28,706.8 717.22,696.25 719.1,690.8 C720.98,685.35 723.77,682.38 724.7,680.7" fill="none" stroke="#ff0000" stroke-width="8.8" stroke-linejoin="round" stroke-linecap="round"/><path d="M402.7,886.5 L405,900 L406.8,913 L408.5,940 L409.8,970 L411,940 L412,910 L413,890" fill="none" stroke="#ff0000" stroke-width="1.4" stroke-linejoin="round" stroke-linecap="round"/><path d="M402.7,883.46 L405.89,888.82 L399.51,888.82 Z" fill="#fff" stroke="#ff0000" stroke-width="1.3"/><path d="M403.2,886.41 L406.39,891.78 L400.01,891.78 Z" fill="#fff" stroke="#ff0000" stroke-width="1.3"/><path d="M403.75,889.6 L406.94,894.97 L400.56,894.97 Z" fill="#fff" stroke="#ff0000" stroke-width="1.3"/><path d="M404.34,893.07 L407.53,898.44 L401.15,898.44 Z" fill="#fff" stroke="#ff0000" stroke-width="1.3"/><path d="M404.98,896.86 L408.17,902.23 L401.79,902.23 Z" fill="#fff" stroke="#ff0000" stroke-width="1.3"/><path d="M405.57,901.07 L408.76,906.43 L402.38,906.43 Z" fill="#fff" stroke="#ff0000" stroke-width="1.3"/><path d="M406.22,905.75 L409.41,911.12 L403.03,911.12 Z" fill="#fff" stroke="#ff0000" stroke-width="1.3"/><path d="M406.87,911.05 L410.06,916.42 L403.68,916.42 Z" fill="#fff" stroke="#ff0000" stroke-width="1.3"/><path d="M407.25,917.16 L410.44,922.53 L404.06,922.53 Z" fill="#fff" stroke="#ff0000" stroke-width="1.3"/><path d="M407.7,924.32 L410.89,929.69 L404.51,929.69 Z" fill="#fff" stroke="#ff0000" stroke-width="1.3"/><path d="M408.25,932.94 L411.44,938.3 L405.06,938.3 Z" fill="#fff" stroke="#ff0000" stroke-width="1.3"/><path d="M408.79,943.71 L411.98,949.08 L405.6,949.08 Z" fill="#fff" stroke="#ff0000" stroke-width="1.3"/><path d="M409.41,957.95 L412.6,963.32 L406.22,963.32 Z" fill="#fff" stroke="#ff0000" stroke-width="1.3"/><path d="M412.84,890.24 L416.03,895.6 L409.65,895.6 Z" fill="#fff" stroke="#ff0000" stroke-width="1.3"/><path d="M412.66,893.81 L415.85,899.17 L409.47,899.17 Z" fill="#fff" stroke="#ff0000" stroke-width="1.3"/><path d="M412.46,897.72 L415.65,903.09 L409.27,903.09 Z" fill="#fff" stroke="#ff0000" stroke-width="1.3"/><path d="M412.25,902.05 L415.44,907.42 L409.06,907.42 Z" fill="#fff" stroke="#ff0000" stroke-width="1.3"/><path d="M412,906.9 L415.19,912.27 L408.81,912.27 Z" fill="#fff" stroke="#ff0000" stroke-width="1.3"/><path d="M411.82,912.4 L415.01,917.77 L408.63,917.77 Z" fill="#fff" stroke="#ff0000" stroke-width="1.3"/><path d="M411.61,918.74 L414.8,924.1 L408.42,924.1 Z" fill="#fff" stroke="#ff0000" stroke-width="1.3"/><path d="M411.36,926.21 L414.55,931.57 L408.17,931.57 Z" fill="#fff" stroke="#ff0000" stroke-width="1.3"/><path d="M409.8,966.96 L412.99,972.32 L406.61,972.32 Z" fill="#fff" stroke="#ff0000" stroke-width="1.3"/><path d="M724.6,677.46 L727.79,682.82 L721.41,682.82 Z" fill="#fff" stroke="#ff0000" stroke-width="1.3"/><path d="M176.8,778.7 C182.23,781.07 197.18,788.5 209.4,792.9 C221.62,797.3 236.53,800.35 250.1,805.1 C263.67,809.85 280.62,816.32 290.8,821.4 C300.98,826.48 305.77,830.85 311.2,835.6 C316.63,840.35 320.02,845.48 323.4,849.9 C326.78,854.32 328.8,857.35 331.5,862.1 C334.2,866.85 338.25,875.68 339.6,878.4" fill="none" stroke="#008000" stroke-width="8.8" stroke-linejoin="round" stroke-linecap="round"/><path d="M351.8,892.6 C353.5,890.23 358.6,882.47 362,878.4 C365.4,874.33 367.12,872.27 372.2,868.2 C377.28,864.13 385.72,858.07 392.5,854 C399.28,849.93 406.12,847.2 412.9,843.8 C419.68,840.4 426.42,836.48 433.2,833.6 C439.98,830.72 446.13,828.2 453.6,826.5 C461.07,824.8 470.38,823.7 478,823.4 C485.62,823.1 485.87,823.98 499.3,824.7 C512.73,825.42 542.13,827.03 558.6,827.7 C575.07,828.37 584.92,829.03 598.1,828.7 C611.28,828.37 626.95,827.58 637.7,825.7 C648.45,823.82 656.57,820.1 662.6,817.4 C668.63,814.7 670.13,812.7 673.9,809.5 C677.67,806.3 681.43,802.92 685.2,798.2 C688.97,793.48 692.73,786.85 696.5,781.2 C700.27,775.55 704.03,769.38 707.8,764.3 C711.57,759.22 716.28,753.72 719.1,750.7 C721.92,747.68 723.77,746.95 724.7,746.2" fill="none" stroke="#008000" stroke-width="8.8" stroke-linejoin="round" stroke-linecap="round"/><path d="M339.6,878.4 L343,890 L345.7,902.8 L348.8,943.5 L349.5,1000 L349.8,1072.5 L350.5,1000 L351,930 L351.8,892.6" fill="none" stroke="#008000" stroke-width="1.4" stroke-linejoin="round" stroke-linecap="round"/><path d="M339.6,881.44 L342.79,876.08 L336.41,876.08 Z" fill="#fff" stroke="#008000" stroke-width="1.3"/><path d="M340.44,884.32 L343.63,878.96 L337.25,878.96 Z" fill="#fff" stroke="#008000" stroke-width="1.3"/><path d="M341.32,887.3 L344.51,881.93 L338.13,881.93 Z" fill="#fff" stroke="#008000" stroke-width="1.3"/><path d="M342.22,890.37 L345.41,885 L339.03,885 Z" fill="#fff" stroke="#008000" stroke-width="1.3"/><path d="M343.11,893.56 L346.3,888.19 L339.92,888.19 Z" fill="#fff" stroke="#008000" stroke-width="1.3"/><path d="M343.82,896.92 L347.01,891.55 L340.63,891.55 Z" fill="#fff" stroke="#008000" stroke-width="1.3"/><path d="M344.55,900.4 L347.74,895.04 L341.36,895.04 Z" fill="#fff" stroke="#008000" stroke-width="1.3"/><path d="M345.32,904.03 L348.51,898.66 L342.13,898.66 Z" fill="#fff" stroke="#008000" stroke-width="1.3"/><path d="M345.85,907.84 L349.04,902.47 L342.66,902.47 Z" fill="#fff" stroke="#008000" stroke-width="1.3"/><path d="M346.16,911.85 L349.35,906.49 L342.97,906.49 Z" fill="#fff" stroke="#008000" stroke-width="1.3"/><path d="M346.48,916.05 L349.67,910.68 L343.29,910.68 Z" fill="#fff" stroke="#008000" stroke-width="1.3"/><path d="M346.81,920.44 L350,915.08 L343.62,915.08 Z" fill="#fff" stroke="#008000" stroke-width="1.3"/><path d="M347.16,925.06 L350.35,919.7 L343.97,919.7 Z" fill="#fff" stroke="#008000" stroke-width="1.3"/><path d="M347.53,929.92 L350.72,924.55 L344.34,924.55 Z" fill="#fff" stroke="#008000" stroke-width="1.3"/><path d="M347.92,935.05 L351.11,929.68 L344.73,929.68 Z" fill="#fff" stroke="#008000" stroke-width="1.3"/><path d="M348.34,940.48 L351.53,935.12 L345.15,935.12 Z" fill="#fff" stroke="#008000" stroke-width="1.3"/><path d="M348.78,946.25 L351.97,940.88 L345.59,940.88 Z" fill="#fff" stroke="#008000" stroke-width="1.3"/><path d="M348.87,952.42 L352.06,947.05 L345.68,947.05 Z" fill="#fff" stroke="#008000" stroke-width="1.3"/><path d="M348.95,959.02 L352.14,953.66 L345.76,953.66 Z" fill="#fff" stroke="#008000" stroke-width="1.3"/><path d="M349.04,966.14 L352.23,960.77 L345.85,960.77 Z" fill="#fff" stroke="#008000" stroke-width="1.3"/><path d="M349.14,973.83 L352.33,968.47 L345.95,968.47 Z" fill="#fff" stroke="#008000" stroke-width="1.3"/><path d="M349.24,982.22 L352.43,976.85 L346.05,976.85 Z" fill="#fff" stroke="#008000" stroke-width="1.3"/><path d="M349.36,991.42 L352.55,986.06 L346.17,986.06 Z" fill="#fff" stroke="#008000" stroke-width="1.3"/><path d="M349.48,1001.62 L352.67,996.25 L346.29,996.25 Z" fill="#fff" stroke="#008000" stroke-width="1.3"/><path d="M349.54,1013.04 L352.73,1007.68 L346.35,1007.68 Z" fill="#fff" stroke="#008000" stroke-width="1.3"/><path d="M349.6,1026.01 L352.79,1020.65 L346.41,1020.65 Z" fill="#fff" stroke="#008000" stroke-width="1.3"/><path d="M349.66,1041 L352.85,1035.63 L346.47,1035.63 Z" fill="#fff" stroke="#008000" stroke-width="1.3"/><path d="M349.73,1058.7 L352.92,1053.33 L346.54,1053.33 Z" fill="#fff" stroke="#008000" stroke-width="1.3"/><path d="M351.72,899.16 L354.91,893.79 L348.53,893.79 Z" fill="#fff" stroke="#008000" stroke-width="1.3"/><path d="M351.65,902.81 L354.84,897.45 L348.46,897.45 Z" fill="#fff" stroke="#008000" stroke-width="1.3"/><path d="M351.57,906.61 L354.76,901.25 L348.38,901.25 Z" fill="#fff" stroke="#008000" stroke-width="1.3"/><path d="M351.48,910.58 L354.67,905.22 L348.29,905.22 Z" fill="#fff" stroke="#008000" stroke-width="1.3"/><path d="M351.39,914.73 L354.58,909.37 L348.2,909.37 Z" fill="#fff" stroke="#008000" stroke-width="1.3"/><path d="M351.3,919.07 L354.49,913.71 L348.11,913.71 Z" fill="#fff" stroke="#008000" stroke-width="1.3"/><path d="M351.2,923.63 L354.39,918.27 L348.01,918.27 Z" fill="#fff" stroke="#008000" stroke-width="1.3"/><path d="M351.1,928.43 L354.29,923.06 L347.91,923.06 Z" fill="#fff" stroke="#008000" stroke-width="1.3"/><path d="M351,933.49 L354.19,928.12 L347.81,928.12 Z" fill="#fff" stroke="#008000" stroke-width="1.3"/><path d="M350.96,938.84 L354.15,933.48 L347.77,933.48 Z" fill="#fff" stroke="#008000" stroke-width="1.3"/><path d="M350.92,944.52 L354.11,939.16 L347.73,939.16 Z" fill="#fff" stroke="#008000" stroke-width="1.3"/><path d="M350.87,950.57 L354.06,945.21 L347.68,945.21 Z" fill="#fff" stroke="#008000" stroke-width="1.3"/><path d="M350.83,957.05 L354.02,951.68 L347.64,951.68 Z" fill="#fff" stroke="#008000" stroke-width="1.3"/><path d="M350.78,964 L353.97,958.64 L347.59,958.64 Z" fill="#fff" stroke="#008000" stroke-width="1.3"/><path d="M350.73,971.52 L353.92,966.15 L347.54,966.15 Z" fill="#fff" stroke="#008000" stroke-width="1.3"/><path d="M350.67,979.69 L353.86,974.33 L347.48,974.33 Z" fill="#fff" stroke="#008000" stroke-width="1.3"/><path d="M349.8,1075.55 L352.99,1070.18 L346.61,1070.18 Z" fill="#fff" stroke="#008000" stroke-width="1.3"/><path d="M724.6,749.04 L727.79,743.68 L721.41,743.68 Z" fill="#fff" stroke="#008000" stroke-width="1.3"/><path d="M172.8,770.5 C178.9,772.88 196.52,780.05 209.4,784.8 C222.28,789.55 236.53,794.25 250.1,799 C263.67,803.75 280.62,807.87 290.8,813.3 C300.98,818.73 305.1,824.82 311.2,831.6 C317.3,838.38 322.32,846.88 327.4,854 C332.48,861.12 336.95,868.2 341.7,874.3 C346.45,880.4 350.82,884.83 355.9,890.6 C360.98,896.37 369.48,905.85 372.2,908.9" fill="none" stroke="#0000ff" stroke-width="8.8" stroke-linejoin="round" stroke-linecap="round"/><path d="M396.6,900.8 C397.97,897.07 401.4,884.85 404.8,878.4 C408.2,871.95 412.27,868.55 417,862.1 C421.73,855.65 427.1,845.8 433.2,839.7 C439.3,833.6 446.13,828.55 453.6,825.5 C461.07,822.45 470.38,822.35 478,821.4 C485.62,820.45 485.87,819.92 499.3,819.8 C512.73,819.68 538.83,821.03 558.6,820.7 C578.37,820.37 602.45,821.55 617.9,817.8 C633.35,814.05 643.85,802.97 651.3,798.2 C658.75,793.43 658.83,792.78 662.6,789.2 C666.37,785.62 670.13,781.23 673.9,776.7 C677.67,772.17 681.43,767.83 685.2,762 C688.97,756.17 692.73,748.1 696.5,741.7 C700.27,735.3 704.03,729.63 707.8,723.6 C711.57,717.57 716.08,709.63 719.1,705.5 C722.12,701.37 724.77,699.92 725.9,698.8" fill="none" stroke="#0000ff" stroke-width="8.8" stroke-linejoin="round" stroke-linecap="round"/><path d="M372.2,908.9 L384.4,929.3 L388.5,953.7 L390.5,998.4 L390.5,1016.4 L391.5,990 L393,950 L395,915 L396.6,900.8" fill="none" stroke="#0000ff" stroke-width="1.4" stroke-linejoin="round" stroke-linecap="round"/><path d="M372.2,905.42 L375.39,908.9 L372.2,912.38 L369.01,908.9 Z" fill="#fff" stroke="#0000ff" stroke-width="1.3"/><path d="M373.99,908.42 L377.18,911.9 L373.99,915.38 L370.8,911.9 Z" fill="#fff" stroke="#0000ff" stroke-width="1.3"/><path d="M375.89,911.58 L379.08,915.06 L375.89,918.54 L372.7,915.06 Z" fill="#fff" stroke="#0000ff" stroke-width="1.3"/><path d="M377.9,914.94 L381.09,918.42 L377.9,921.9 L374.71,918.42 Z" fill="#fff" stroke="#0000ff" stroke-width="1.3"/><path d="M380.04,918.52 L383.23,922 L380.04,925.48 L376.85,922 Z" fill="#fff" stroke="#0000ff" stroke-width="1.3"/><path d="M382.32,922.35 L385.51,925.83 L382.32,929.31 L379.13,925.83 Z" fill="#fff" stroke="#0000ff" stroke-width="1.3"/><path d="M384.52,926.55 L387.71,930.03 L384.52,933.51 L381.33,930.03 Z" fill="#fff" stroke="#0000ff" stroke-width="1.3"/><path d="M385.38,931.66 L388.57,935.14 L385.38,938.62 L382.19,935.14 Z" fill="#fff" stroke="#0000ff" stroke-width="1.3"/><path d="M386.33,937.28 L389.52,940.76 L386.33,944.24 L383.14,940.76 Z" fill="#fff" stroke="#0000ff" stroke-width="1.3"/><path d="M387.37,943.52 L390.56,947 L387.37,950.48 L384.18,947 Z" fill="#fff" stroke="#0000ff" stroke-width="1.3"/><path d="M388.51,950.54 L391.7,954.02 L388.51,957.5 L385.32,954.02 Z" fill="#fff" stroke="#0000ff" stroke-width="1.3"/><path d="M388.88,958.64 L392.07,962.12 L388.88,965.6 L385.69,962.12 Z" fill="#fff" stroke="#0000ff" stroke-width="1.3"/><path d="M389.3,968.06 L392.49,971.54 L389.3,975.02 L386.11,971.54 Z" fill="#fff" stroke="#0000ff" stroke-width="1.3"/><path d="M389.8,979.29 L392.99,982.77 L389.8,986.25 L386.61,982.77 Z" fill="#fff" stroke="#0000ff" stroke-width="1.3"/><path d="M390.42,993.15 L393.61,996.63 L390.42,1000.11 L387.23,996.63 Z" fill="#fff" stroke="#0000ff" stroke-width="1.3"/><path d="M390.5,1011.12 L393.69,1014.6 L390.5,1018.08 L387.31,1014.6 Z" fill="#fff" stroke="#0000ff" stroke-width="1.3"/><path d="M396.26,900.3 L399.45,903.78 L396.26,907.26 L393.07,903.78 Z" fill="#fff" stroke="#0000ff" stroke-width="1.3"/><path d="M395.91,903.45 L399.1,906.93 L395.91,910.41 L392.72,906.93 Z" fill="#fff" stroke="#0000ff" stroke-width="1.3"/><path d="M395.53,906.8 L398.72,910.28 L395.53,913.76 L392.34,910.28 Z" fill="#fff" stroke="#0000ff" stroke-width="1.3"/><path d="M395.13,910.35 L398.32,913.83 L395.13,917.31 L391.94,913.83 Z" fill="#fff" stroke="#0000ff" stroke-width="1.3"/><path d="M394.85,914.17 L398.04,917.65 L394.85,921.13 L391.66,917.65 Z" fill="#fff" stroke="#0000ff" stroke-width="1.3"/><path d="M394.61,918.27 L397.8,921.75 L394.61,925.23 L391.42,921.75 Z" fill="#fff" stroke="#0000ff" stroke-width="1.3"/><path d="M394.36,922.7 L397.55,926.18 L394.36,929.66 L391.17,926.18 Z" fill="#fff" stroke="#0000ff" stroke-width="1.3"/><path d="M394.09,927.52 L397.28,931 L394.09,934.48 L390.9,931 Z" fill="#fff" stroke="#0000ff" stroke-width="1.3"/><path d="M393.79,932.78 L396.98,936.26 L393.79,939.74 L390.6,936.26 Z" fill="#fff" stroke="#0000ff" stroke-width="1.3"/><path d="M393.45,938.59 L396.64,942.07 L393.45,945.55 L390.26,942.07 Z" fill="#fff" stroke="#0000ff" stroke-width="1.3"/><path d="M393.08,945.06 L396.27,948.54 L393.08,952.02 L389.89,948.54 Z" fill="#fff" stroke="#0000ff" stroke-width="1.3"/><path d="M392.78,952.38 L395.97,955.86 L392.78,959.34 L389.59,955.86 Z" fill="#fff" stroke="#0000ff" stroke-width="1.3"/><path d="M392.47,960.76 L395.66,964.24 L392.47,967.72 L389.28,964.24 Z" fill="#fff" stroke="#0000ff" stroke-width="1.3"/><path d="M390.5,1012.92 L393.69,1016.4 L390.5,1019.88 L387.31,1016.4 Z" fill="#fff" stroke="#0000ff" stroke-width="1.3"/><path d="M724.6,695.52 L727.79,699 L724.6,702.48 L721.41,699 Z" fill="#fff" stroke="#0000ff" stroke-width="1.3"/><path d="M176.8,774.6 C182.23,776.63 197.18,782.4 209.4,786.8 C221.62,791.2 236.53,796.25 250.1,801 C263.67,805.75 280.62,810.88 290.8,815.3 C300.98,819.72 305.1,822.42 311.2,827.5 C317.3,832.58 322.32,839.7 327.4,845.8 C332.48,851.9 337.63,859.35 341.7,864.1 C345.77,868.85 348.42,871.23 351.8,874.3 C355.18,877.37 357.92,879.78 362,882.5 C366.08,885.22 372.23,887.55 376.3,890.6 C380.37,893.65 384.72,899.1 386.4,900.8" fill="none" stroke="#ff8000" stroke-width="8.8" stroke-linejoin="round" stroke-linecap="round"/><path d="M400.7,892.6 C402.05,889.55 405.75,879.72 408.8,874.3 C411.85,868.88 414.93,865.53 419,860.1 C423.07,854.67 428.78,846.8 433.2,841.7 C437.62,836.6 441.77,832.88 445.5,829.5 C449.23,826.12 450.18,823.27 455.6,821.4 C461.02,819.53 470.72,819.07 478,818.3 C485.28,817.53 485.87,817.38 499.3,816.8 C512.73,816.22 538.83,815.62 558.6,814.8 C578.37,813.98 604.33,814.67 617.9,811.9 C631.47,809.13 634.43,803.32 640,798.2 C645.57,793.08 647.53,787.8 651.3,781.2 C655.07,774.6 659.78,764.25 662.6,758.6 C665.42,752.95 666.32,752 668.2,747.3 C670.08,742.6 672.02,735.48 673.9,730.4 C675.78,725.32 677.62,721.32 679.5,716.8 C681.38,712.28 683.32,707.63 685.2,703.3 C687.08,698.97 688.92,694.57 690.8,690.8 C692.68,687.03 693.67,684.47 696.5,680.7 C699.33,676.93 703.65,672.35 707.8,668.2 C711.95,664.05 719.13,657.87 721.4,655.8" fill="none" stroke="#ff8000" stroke-width="8.8" stroke-linejoin="round" stroke-linecap="round"/><path d="M386.4,900.8 L392.5,919.1 L394.6,943.5 L394.6,970 L394.6,997 L396,960 L397.5,930 L400.7,892.6" fill="none" stroke="#ff8000" stroke-width="1.4" stroke-linejoin="round" stroke-linecap="round"/><path d="M386.4,897.17 L387.34,899.51 L389.85,899.68 L387.92,901.29 L388.53,903.73 L386.4,902.39 L384.27,903.73 L384.88,901.29 L382.95,899.68 L385.46,899.51 Z" fill="#fff" stroke="#ff8000" stroke-width="1.3"/><path d="M387.52,900.55 L388.46,902.88 L390.97,903.05 L389.04,904.67 L389.65,907.1 L387.52,905.77 L385.39,907.1 L386.01,904.67 L384.08,903.05 L386.59,902.88 Z" fill="#fff" stroke="#ff8000" stroke-width="1.3"/><path d="M388.73,904.16 L389.67,906.5 L392.18,906.67 L390.25,908.28 L390.86,910.72 L388.73,909.38 L386.6,910.72 L387.21,908.28 L385.28,906.67 L387.79,906.5 Z" fill="#fff" stroke="#ff8000" stroke-width="1.3"/><path d="M390.03,908.06 L390.97,910.39 L393.48,910.56 L391.55,912.18 L392.16,914.62 L390.03,913.28 L387.9,914.62 L388.51,912.18 L386.58,910.56 L389.09,910.39 Z" fill="#fff" stroke="#ff8000" stroke-width="1.3"/><path d="M391.44,912.28 L392.37,914.62 L394.88,914.79 L392.95,916.4 L393.57,918.84 L391.44,917.5 L389.31,918.84 L389.92,916.4 L387.99,914.79 L390.5,914.62 Z" fill="#fff" stroke="#ff8000" stroke-width="1.3"/><path d="M392.63,916.96 L393.57,919.3 L396.08,919.47 L394.15,921.08 L394.76,923.52 L392.63,922.18 L390.5,923.52 L391.11,921.08 L389.18,919.47 L391.69,919.3 Z" fill="#fff" stroke="#ff8000" stroke-width="1.3"/><path d="M393.09,922.3 L394.02,924.63 L396.53,924.8 L394.6,926.41 L395.22,928.85 L393.09,927.52 L390.96,928.85 L391.57,926.41 L389.64,924.8 L392.15,924.63 Z" fill="#fff" stroke="#ff8000" stroke-width="1.3"/><path d="M393.6,928.25 L394.54,930.59 L397.05,930.76 L395.12,932.37 L395.73,934.81 L393.6,933.47 L391.47,934.81 L392.08,932.37 L390.15,930.76 L392.66,930.59 Z" fill="#fff" stroke="#ff8000" stroke-width="1.3"/><path d="M394.18,934.99 L395.12,937.32 L397.63,937.49 L395.7,939.1 L396.31,941.54 L394.18,940.21 L392.05,941.54 L392.66,939.1 L390.73,937.49 L393.24,937.32 Z" fill="#fff" stroke="#ff8000" stroke-width="1.3"/><path d="M394.6,942.74 L395.54,945.07 L398.05,945.24 L396.12,946.86 L396.73,949.3 L394.6,947.96 L392.47,949.3 L393.08,946.86 L391.15,945.24 L393.66,945.07 Z" fill="#fff" stroke="#ff8000" stroke-width="1.3"/><path d="M394.6,951.86 L395.54,954.19 L398.05,954.36 L396.12,955.98 L396.73,958.42 L394.6,957.08 L392.47,958.42 L393.08,955.98 L391.15,954.36 L393.66,954.19 Z" fill="#fff" stroke="#ff8000" stroke-width="1.3"/><path d="M394.6,962.88 L395.54,965.21 L398.05,965.38 L396.12,966.99 L396.73,969.43 L394.6,968.1 L392.47,969.43 L393.08,966.99 L391.15,965.38 L393.66,965.21 Z" fill="#fff" stroke="#ff8000" stroke-width="1.3"/><path d="M394.6,976.71 L395.54,979.05 L398.05,979.22 L396.12,980.83 L396.73,983.27 L394.6,981.93 L392.47,983.27 L393.08,980.83 L391.15,979.22 L393.66,979.05 Z" fill="#fff" stroke="#ff8000" stroke-width="1.3"/><path d="M400.44,891.96 L401.38,894.3 L403.89,894.47 L401.96,896.08 L402.57,898.52 L400.44,897.18 L398.31,898.52 L398.93,896.08 L397,894.47 L399.51,894.3 Z" fill="#fff" stroke="#ff8000" stroke-width="1.3"/><path d="M400.17,895.14 L401.11,897.48 L403.62,897.65 L401.69,899.26 L402.3,901.7 L400.17,900.36 L398.04,901.7 L398.66,899.26 L396.72,897.65 L399.23,897.48 Z" fill="#fff" stroke="#ff8000" stroke-width="1.3"/><path d="M399.88,898.54 L400.82,900.87 L403.33,901.04 L401.4,902.66 L402.01,905.1 L399.88,903.76 L397.75,905.1 L398.36,902.66 L396.43,901.04 L398.94,900.87 Z" fill="#fff" stroke="#ff8000" stroke-width="1.3"/><path d="M399.57,902.18 L400.51,904.52 L403.02,904.69 L401.09,906.3 L401.7,908.74 L399.57,907.4 L397.44,908.74 L398.05,906.3 L396.12,904.69 L398.63,904.52 Z" fill="#fff" stroke="#ff8000" stroke-width="1.3"/><path d="M399.23,906.11 L400.17,908.45 L402.68,908.62 L400.75,910.23 L401.36,912.67 L399.23,911.33 L397.1,912.67 L397.72,910.23 L395.79,908.62 L398.3,908.45 Z" fill="#fff" stroke="#ff8000" stroke-width="1.3"/><path d="M398.87,910.37 L399.81,912.71 L402.32,912.88 L400.39,914.49 L401,916.93 L398.87,915.59 L396.74,916.93 L397.35,914.49 L395.42,912.88 L397.93,912.71 Z" fill="#fff" stroke="#ff8000" stroke-width="1.3"/><path d="M398.47,915.02 L399.41,917.36 L401.92,917.53 L399.99,919.14 L400.6,921.58 L398.47,920.24 L396.34,921.58 L396.95,919.14 L395.02,917.53 L397.53,917.36 Z" fill="#fff" stroke="#ff8000" stroke-width="1.3"/><path d="M398.03,920.15 L398.97,922.48 L401.48,922.65 L399.55,924.27 L400.16,926.71 L398.03,925.37 L395.9,926.71 L396.52,924.27 L394.59,922.65 L397.1,922.48 Z" fill="#fff" stroke="#ff8000" stroke-width="1.3"/><path d="M397.55,925.84 L398.48,928.18 L400.99,928.35 L399.06,929.96 L399.68,932.4 L397.55,931.06 L395.41,932.4 L396.03,929.96 L394.1,928.35 L396.61,928.18 Z" fill="#fff" stroke="#ff8000" stroke-width="1.3"/><path d="M397.21,932.27 L398.14,934.6 L400.65,934.77 L398.72,936.38 L399.34,938.82 L397.21,937.49 L395.07,938.82 L395.69,936.38 L393.76,934.77 L396.27,934.6 Z" fill="#fff" stroke="#ff8000" stroke-width="1.3"/><path d="M396.84,939.6 L397.78,941.94 L400.29,942.11 L398.36,943.72 L398.97,946.16 L396.84,944.82 L394.71,946.16 L395.32,943.72 L393.39,942.11 L395.9,941.94 Z" fill="#fff" stroke="#ff8000" stroke-width="1.3"/><path d="M394.6,993.38 L395.54,995.71 L398.05,995.88 L396.12,997.49 L396.73,999.93 L394.6,998.6 L392.47,999.93 L393.08,997.49 L391.15,995.88 L393.66,995.71 Z" fill="#fff" stroke="#ff8000" stroke-width="1.3"/><path d="M722.7,651.38 L723.64,653.71 L726.15,653.88 L724.22,655.49 L724.83,657.93 L722.7,656.6 L720.57,657.93 L721.18,655.49 L719.25,653.88 L721.76,653.71 Z" fill="#fff" stroke="#ff8000" stroke-width="1.3"/><path d="M176.8,768.5 C182.23,770.37 197.18,775.97 209.4,779.7 C221.62,783.43 236.53,786.67 250.1,790.9 C263.67,795.13 277.23,799.33 290.8,805.1 C304.37,810.87 321.33,820.42 331.5,825.5 C341.67,830.58 345.02,832.55 351.8,835.6 C358.58,838.65 365.75,841.25 372.2,843.8 C378.65,846.35 385.75,848.18 390.5,850.9 C395.25,853.62 397.65,856.53 400.7,860.1 C403.75,863.67 406.77,868.57 408.8,872.3 C410.83,876.03 412.22,880.8 412.9,882.5" fill="none" stroke="#800000" stroke-width="8.8" stroke-linejoin="round" stroke-linecap="round"/><path d="M421,902.8 C421.68,899.42 423.07,889.28 425.1,882.5 C427.13,875.72 430.48,868.22 433.2,862.1 C435.92,855.98 439.02,850.88 441.4,845.8 C443.78,840.72 445.13,836.52 447.5,831.6 C449.87,826.68 452.55,819.35 455.6,816.3 C458.65,813.25 462.07,814.15 465.8,813.3 C469.53,812.45 472.3,813.08 478,811.2 C483.7,809.32 491.5,804.87 500,802 C508.5,799.13 519.23,797.83 529,794 C538.77,790.17 548.72,783.17 558.6,779 C568.48,774.83 578.42,772.25 588.3,769 C598.18,765.75 609.28,762.92 617.9,759.5 C626.52,756.08 634.43,752.42 640,748.5 C645.57,744.58 648.47,739.97 651.3,736 C654.13,732.03 655.12,728.47 657,724.7 C658.88,720.93 660.73,717.35 662.6,713.4 C664.47,709.45 666.32,705.32 668.2,701 C670.08,696.68 672.02,691.83 673.9,687.5 C675.78,683.17 677.62,678.77 679.5,675 C681.38,671.23 683.12,668 685.2,664.9 C687.28,661.8 690.87,657.82 692,656.4" fill="none" stroke="#800000" stroke-width="8.8" stroke-linejoin="round" stroke-linecap="round"/><path d="M412.9,882.5 L414.9,902.8 L418,943.5 L418,979 L419.5,940 L421,902.8" fill="none" stroke="#800000" stroke-width="1.4" stroke-linejoin="round" stroke-linecap="round"/><rect x="410" y="879.6" width="5.8" height="5.8" fill="#fff" stroke="#800000" stroke-width="1.3"/><rect x="410.29" y="882.59" width="5.8" height="5.8" fill="#fff" stroke="#800000" stroke-width="1.3"/><rect x="410.61" y="885.78" width="5.8" height="5.8" fill="#fff" stroke="#800000" stroke-width="1.3"/><rect x="410.95" y="889.21" width="5.8" height="5.8" fill="#fff" stroke="#800000" stroke-width="1.3"/><rect x="411.31" y="892.91" width="5.8" height="5.8" fill="#fff" stroke="#800000" stroke-width="1.3"/><rect x="411.71" y="896.93" width="5.8" height="5.8" fill="#fff" stroke="#800000" stroke-width="1.3"/><rect x="412.11" y="901.33" width="5.8" height="5.8" fill="#fff" stroke="#800000" stroke-width="1.3"/><rect x="412.48" y="906.2" width="5.8" height="5.8" fill="#fff" stroke="#800000" stroke-width="1.3"/><rect x="412.89" y="911.62" width="5.8" height="5.8" fill="#fff" stroke="#800000" stroke-width="1.3"/><rect x="413.36" y="917.74" width="5.8" height="5.8" fill="#fff" stroke="#800000" stroke-width="1.3"/><rect x="413.89" y="924.77" width="5.8" height="5.8" fill="#fff" stroke="#800000" stroke-width="1.3"/><rect x="414.52" y="932.99" width="5.8" height="5.8" fill="#fff" stroke="#800000" stroke-width="1.3"/><rect x="415.1" y="942.87" width="5.8" height="5.8" fill="#fff" stroke="#800000" stroke-width="1.3"/><rect x="415.1" y="955.23" width="5.8" height="5.8" fill="#fff" stroke="#800000" stroke-width="1.3"/><rect x="415.1" y="971.53" width="5.8" height="5.8" fill="#fff" stroke="#800000" stroke-width="1.3"/><rect x="417.91" y="904.62" width="5.8" height="5.8" fill="#fff" stroke="#800000" stroke-width="1.3"/><rect x="417.7" y="909.87" width="5.8" height="5.8" fill="#fff" stroke="#800000" stroke-width="1.3"/><rect x="417.46" y="915.77" width="5.8" height="5.8" fill="#fff" stroke="#800000" stroke-width="1.3"/><rect x="417.19" y="922.5" width="5.8" height="5.8" fill="#fff" stroke="#800000" stroke-width="1.3"/><rect x="416.87" y="930.33" width="5.8" height="5.8" fill="#fff" stroke="#800000" stroke-width="1.3"/><rect x="415.1" y="976.1" width="5.8" height="5.8" fill="#fff" stroke="#800000" stroke-width="1.3"/><rect x="689.1" y="652.6" width="5.8" height="5.8" fill="#fff" stroke="#800000" stroke-width="1.3"/><rect x="454" y="849" width="282.5" height="231" fill="#fff" stroke="#1a1a1a" stroke-width="1.5"/><rect x="454" y="849" width="282.5" height="231" fill="none" stroke="#1a1a1a" stroke-width="1.5"/><line x1="472.5" y1="878.5" x2="539" y2="878.5" stroke="#000000" stroke-width="1.5"/><circle cx="506" cy="878.5" r="3.2" fill="#fff" stroke="#000000" stroke-width="1.3"/><text x="548.5" y="888.8" font-size="25.5" font-family="'Liberation Serif', 'Times New Roman', serif" fill="#000" stroke="#000" stroke-width="0.45" textLength="179" lengthAdjust="spacingAndGlyphs">with no modifiers</text><line x1="472.5" y1="915" x2="539" y2="915" stroke="#ff0000" stroke-width="1.5"/><path d="M506,911.64 L509.52,917.56 L502.48,917.56 Z" fill="#fff" stroke="#ff0000" stroke-width="1.3"/><text x="548.5" y="925.3" font-size="25.5" font-family="'Liberation Serif', 'Times New Roman', serif" fill="#000" stroke="#000" stroke-width="0.45" textLength="151.5" lengthAdjust="spacingAndGlyphs">with 0.05% Ce</text><line x1="472.5" y1="952" x2="539" y2="952" stroke="#008000" stroke-width="1.5"/><path d="M506,955.36 L509.52,949.44 L502.48,949.44 Z" fill="#fff" stroke="#008000" stroke-width="1.3"/><text x="548.5" y="962.3" font-size="25.5" font-family="'Liberation Serif', 'Times New Roman', serif" fill="#000" stroke="#000" stroke-width="0.45" textLength="139" lengthAdjust="spacingAndGlyphs">with 0.1% Ce</text><line x1="472.5" y1="989" x2="539" y2="989" stroke="#0000ff" stroke-width="1.5"/><path d="M506,985.16 L509.52,989 L506,992.84 L502.48,989 Z" fill="#fff" stroke="#0000ff" stroke-width="1.3"/><text x="548.5" y="999.3" font-size="25.5" font-family="'Liberation Serif', 'Times New Roman', serif" fill="#000" stroke="#000" stroke-width="0.45" textLength="139" lengthAdjust="spacingAndGlyphs">with 0.2% Ce</text><line x1="472.5" y1="1026" x2="539" y2="1026" stroke="#ff8000" stroke-width="1.5"/><path d="M506,1022 L507.03,1024.58 L509.8,1024.76 L507.67,1026.54 L508.35,1029.24 L506,1027.76 L503.65,1029.24 L504.33,1026.54 L502.2,1024.76 L504.97,1024.58 Z" fill="#fff" stroke="#ff8000" stroke-width="1.3"/><text x="548.5" y="1036.3" font-size="25.5" font-family="'Liberation Serif', 'Times New Roman', serif" fill="#000" stroke="#000" stroke-width="0.45" textLength="139" lengthAdjust="spacingAndGlyphs">with 0.5% Ce</text><line x1="472.5" y1="1063" x2="539" y2="1063" stroke="#800000" stroke-width="1.5"/><rect x="502.8" y="1059.8" width="6.4" height="6.4" fill="#fff" stroke="#800000" stroke-width="1.3"/><text x="548.5" y="1073.3" font-size="25.5" font-family="'Liberation Serif', 'Times New Roman', serif" fill="#000" stroke="#000" stroke-width="0.45" textLength="139" lengthAdjust="spacingAndGlyphs">with 1.0% Ce</text><rect x="128.5" y="1227.5" width="646.5" height="472.5" fill="none" stroke="#000" stroke-width="2.5"/><text x="117.3" y="1708.39" font-size="22" font-family="'Liberation Serif', 'Times New Roman', serif" fill="#222" text-anchor="end" textLength="20.6" lengthAdjust="spacingAndGlyphs">−9</text><line x1="129.7" y1="1668.45" x2="133" y2="1668.45" stroke="#000" stroke-width="2"/><line x1="129.7" y1="1636.92" x2="138" y2="1636.92" stroke="#000" stroke-width="2"/><text x="117.3" y="1645.32" font-size="22" font-family="'Liberation Serif', 'Times New Roman', serif" fill="#222" text-anchor="end" textLength="20.6" lengthAdjust="spacingAndGlyphs">−8</text><line x1="129.7" y1="1605.38" x2="133" y2="1605.38" stroke="#000" stroke-width="2"/><line x1="129.7" y1="1573.85" x2="138" y2="1573.85" stroke="#000" stroke-width="2"/><text x="117.3" y="1582.25" font-size="22" font-family="'Liberation Serif', 'Times New Roman', serif" fill="#222" text-anchor="end" textLength="20.6" lengthAdjust="spacingAndGlyphs">−7</text><line x1="129.7" y1="1542.32" x2="133" y2="1542.32" stroke="#000" stroke-width="2"/><line x1="129.7" y1="1510.78" x2="138" y2="1510.78" stroke="#000" stroke-width="2"/><text x="117.3" y="1519.18" font-size="22" font-family="'Liberation Serif', 'Times New Roman', serif" fill="#222" text-anchor="end" textLength="20.6" lengthAdjust="spacingAndGlyphs">−6</text><line x1="129.7" y1="1479.24" x2="133" y2="1479.24" stroke="#000" stroke-width="2"/><line x1="129.7" y1="1447.71" x2="138" y2="1447.71" stroke="#000" stroke-width="2"/><text x="117.3" y="1456.11" font-size="22" font-family="'Liberation Serif', 'Times New Roman', serif" fill="#222" text-anchor="end" textLength="20.6" lengthAdjust="spacingAndGlyphs">−5</text><line x1="129.7" y1="1416.17" x2="133" y2="1416.17" stroke="#000" stroke-width="2"/><line x1="129.7" y1="1384.64" x2="138" y2="1384.64" stroke="#000" stroke-width="2"/><text x="117.3" y="1393.04" font-size="22" font-family="'Liberation Serif', 'Times New Roman', serif" fill="#222" text-anchor="end" textLength="20.6" lengthAdjust="spacingAndGlyphs">−4</text><line x1="129.7" y1="1353.11" x2="133" y2="1353.11" stroke="#000" stroke-width="2"/><line x1="129.7" y1="1321.57" x2="138" y2="1321.57" stroke="#000" stroke-width="2"/><text x="117.3" y="1329.97" font-size="22" font-family="'Liberation Serif', 'Times New Roman', serif" fill="#222" text-anchor="end" textLength="20.6" lengthAdjust="spacingAndGlyphs">−3</text><line x1="129.7" y1="1290.04" x2="133" y2="1290.04" stroke="#000" stroke-width="2"/><line x1="129.7" y1="1258.5" x2="138" y2="1258.5" stroke="#000" stroke-width="2"/><text x="117.3" y="1266.9" font-size="22" font-family="'Liberation Serif', 'Times New Roman', serif" fill="#222" text-anchor="end" textLength="20.6" lengthAdjust="spacingAndGlyphs">−2</text><line x1="178.5" y1="1698.8" x2="178.5" y2="1690.5" stroke="#000" stroke-width="2"/><text x="178.5" y="1729" font-size="21" font-family="'Liberation Serif', 'Times New Roman', serif" fill="#222" text-anchor="middle" textLength="42" lengthAdjust="spacingAndGlyphs">−1. 0</text><line x1="228.15" y1="1698.8" x2="228.15" y2="1695.5" stroke="#000" stroke-width="2"/><line x1="277.8" y1="1698.8" x2="277.8" y2="1690.5" stroke="#000" stroke-width="2"/><text x="277.8" y="1729" font-size="21" font-family="'Liberation Serif', 'Times New Roman', serif" fill="#222" text-anchor="middle" textLength="42" lengthAdjust="spacingAndGlyphs">−0. 8</text><line x1="327.45" y1="1698.8" x2="327.45" y2="1695.5" stroke="#000" stroke-width="2"/><line x1="377.1" y1="1698.8" x2="377.1" y2="1690.5" stroke="#000" stroke-width="2"/><text x="377.1" y="1729" font-size="21" font-family="'Liberation Serif', 'Times New Roman', serif" fill="#222" text-anchor="middle" textLength="42" lengthAdjust="spacingAndGlyphs">−0. 6</text><line x1="426.75" y1="1698.8" x2="426.75" y2="1695.5" stroke="#000" stroke-width="2"/><line x1="476.4" y1="1698.8" x2="476.4" y2="1690.5" stroke="#000" stroke-width="2"/><text x="476.4" y="1729" font-size="21" font-family="'Liberation Serif', 'Times New Roman', serif" fill="#222" text-anchor="middle" textLength="42" lengthAdjust="spacingAndGlyphs">−0. 4</text><line x1="526.05" y1="1698.8" x2="526.05" y2="1695.5" stroke="#000" stroke-width="2"/><line x1="575.7" y1="1698.8" x2="575.7" y2="1690.5" stroke="#000" stroke-width="2"/><text x="575.7" y="1729" font-size="21" font-family="'Liberation Serif', 'Times New Roman', serif" fill="#222" text-anchor="middle" textLength="42" lengthAdjust="spacingAndGlyphs">−0. 2</text><line x1="625.35" y1="1698.8" x2="625.35" y2="1695.5" stroke="#000" stroke-width="2"/><line x1="675" y1="1698.8" x2="675" y2="1690.5" stroke="#000" stroke-width="2"/><text x="675" y="1729" font-size="21" font-family="'Liberation Serif', 'Times New Roman', serif" fill="#222" text-anchor="middle" textLength="31" lengthAdjust="spacingAndGlyphs">0. 0</text><line x1="724.65" y1="1698.8" x2="724.65" y2="1695.5" stroke="#000" stroke-width="2"/><text x="774.3" y="1729" font-size="21" font-family="'Liberation Serif', 'Times New Roman', serif" fill="#222" text-anchor="middle" textLength="31" lengthAdjust="spacingAndGlyphs">0. 2</text><text transform="translate(85.3,1463.75) rotate(-90)" x="0" y="0" font-size="25" font-family="'Liberation Serif', 'Times New Roman', serif" text-anchor="middle" stroke="#000" stroke-width="0.35" textLength="159" lengthAdjust="spacingAndGlyphs">lg[J/(A • cm<tspan font-size="15" dy="-10">-2</tspan><tspan dy="10">)]</tspan></text><text x="392.6" y="1764" font-size="25.5" font-family="'Liberation Serif', 'Times New Roman', serif" fill="#000" stroke="#000" stroke-width="0.35" textLength="115.6" lengthAdjust="spacingAndGlyphs">Potential/V</text><text x="3.5" y="1255" font-size="52" font-family="'Liberation Serif', 'Times New Roman', serif" fill="#000" stroke="#000" stroke-width="0.3">(e)</text><path d="M174.9,1396 C178.62,1397.55 187.28,1401.27 197.2,1405.3 C207.12,1409.33 222,1415.85 234.4,1420.2 C246.8,1424.55 260.75,1427.37 271.6,1431.4 C282.45,1435.43 291.75,1439.75 299.5,1444.4 C307.25,1449.05 311.9,1454.65 318.1,1459.3 C324.3,1463.95 330.5,1468.88 336.7,1472.3 C342.9,1475.72 349.08,1478.25 355.3,1479.8 C361.52,1481.35 369.33,1480.98 374,1481.6 C378.67,1482.22 379.28,1481.63 383.3,1483.5 C387.32,1485.37 394.08,1488.77 398.1,1492.8 C402.12,1496.83 404.92,1503.37 407.4,1507.7 C409.88,1512.03 412.07,1516.95 413,1518.8" fill="none" stroke="#000000" stroke-width="8.8" stroke-linejoin="round" stroke-linecap="round"/><path d="M420.5,1518.8 C421.42,1515.7 422.92,1507.02 426,1500.2 C429.08,1493.38 433.72,1485.03 439,1477.9 C444.28,1470.77 450.87,1461.58 457.7,1457.4 C464.53,1453.22 473.42,1454 480,1452.8 C486.58,1451.6 481.93,1450.78 497.2,1450.2 C512.47,1449.62 551.45,1449.77 571.6,1449.3 C591.75,1448.83 609.03,1448.27 618.1,1447.4 C627.17,1446.53 621.43,1446.17 626,1444.1 C630.57,1442.03 640.08,1438.68 645.5,1435 C650.92,1431.32 654.82,1427.42 658.5,1422 C662.18,1416.58 665,1409 667.6,1402.5 C670.2,1396 671.93,1390.15 674.1,1383 C676.27,1375.85 678.43,1367.4 680.6,1359.6 C682.77,1351.8 684.93,1343.13 687.1,1336.2 C689.27,1329.27 691.43,1323.63 693.6,1318 C695.77,1312.37 697.93,1306.73 700.1,1302.4 C702.27,1298.07 704.22,1295.47 706.6,1292 C708.98,1288.53 711.58,1284.85 714.4,1281.6 C717.22,1278.35 721.98,1274.02 723.5,1272.5" fill="none" stroke="#000000" stroke-width="8.8" stroke-linejoin="round" stroke-linecap="round"/><path d="M413,1518.8 L416.7,1546.7 L418.6,1584 L418.6,1617.4 L419.5,1580 L420,1545 L420.5,1518.8" fill="none" stroke="#000000" stroke-width="1.4" stroke-linejoin="round" stroke-linecap="round"/><circle cx="413" cy="1518.8" r="2.9" fill="#fff" stroke="#000000" stroke-width="1.3"/><circle cx="413.39" cy="1521.77" r="2.9" fill="#fff" stroke="#000000" stroke-width="1.3"/><circle cx="413.82" cy="1524.95" r="2.9" fill="#fff" stroke="#000000" stroke-width="1.3"/><circle cx="414.27" cy="1528.35" r="2.9" fill="#fff" stroke="#000000" stroke-width="1.3"/><circle cx="414.75" cy="1532.02" r="2.9" fill="#fff" stroke="#000000" stroke-width="1.3"/><circle cx="415.28" cy="1535.99" r="2.9" fill="#fff" stroke="#000000" stroke-width="1.3"/><circle cx="415.85" cy="1540.32" r="2.9" fill="#fff" stroke="#000000" stroke-width="1.3"/><circle cx="416.49" cy="1545.09" r="2.9" fill="#fff" stroke="#000000" stroke-width="1.3"/><circle cx="416.89" cy="1550.4" r="2.9" fill="#fff" stroke="#000000" stroke-width="1.3"/><circle cx="417.19" cy="1556.39" r="2.9" fill="#fff" stroke="#000000" stroke-width="1.3"/><circle cx="417.54" cy="1563.21" r="2.9" fill="#fff" stroke="#000000" stroke-width="1.3"/><circle cx="417.94" cy="1571.14" r="2.9" fill="#fff" stroke="#000000" stroke-width="1.3"/><circle cx="418.43" cy="1580.57" r="2.9" fill="#fff" stroke="#000000" stroke-width="1.3"/><circle cx="418.6" cy="1592.17" r="2.9" fill="#fff" stroke="#000000" stroke-width="1.3"/><circle cx="418.6" cy="1607.13" r="2.9" fill="#fff" stroke="#000000" stroke-width="1.3"/><circle cx="420.44" cy="1521.8" r="2.9" fill="#fff" stroke="#000000" stroke-width="1.3"/><circle cx="420.38" cy="1525" r="2.9" fill="#fff" stroke="#000000" stroke-width="1.3"/><circle cx="420.32" cy="1528.44" r="2.9" fill="#fff" stroke="#000000" stroke-width="1.3"/><circle cx="420.25" cy="1532.14" r="2.9" fill="#fff" stroke="#000000" stroke-width="1.3"/><circle cx="420.17" cy="1536.16" r="2.9" fill="#fff" stroke="#000000" stroke-width="1.3"/><circle cx="420.08" cy="1540.55" r="2.9" fill="#fff" stroke="#000000" stroke-width="1.3"/><circle cx="419.99" cy="1545.38" r="2.9" fill="#fff" stroke="#000000" stroke-width="1.3"/><circle cx="419.92" cy="1550.75" r="2.9" fill="#fff" stroke="#000000" stroke-width="1.3"/><circle cx="419.83" cy="1556.78" r="2.9" fill="#fff" stroke="#000000" stroke-width="1.3"/><circle cx="419.73" cy="1563.68" r="2.9" fill="#fff" stroke="#000000" stroke-width="1.3"/><circle cx="419.62" cy="1571.69" r="2.9" fill="#fff" stroke="#000000" stroke-width="1.3"/><circle cx="418.6" cy="1617.4" r="2.9" fill="#fff" stroke="#000000" stroke-width="1.3"/><circle cx="724.2" cy="1272" r="2.9" fill="#fff" stroke="#000000" stroke-width="1.3"/><path d="M176.7,1382.1 C180.12,1383.8 187.58,1388.12 197.2,1392.3 C206.82,1396.48 222,1402.85 234.4,1407.2 C246.8,1411.55 260.75,1414.37 271.6,1418.4 C282.45,1422.43 290.2,1426.13 299.5,1431.4 C308.8,1436.67 319.65,1445.03 327.4,1450 C335.15,1454.97 339.78,1458.1 346,1461.2 C352.22,1464.3 358.48,1465.2 364.7,1468.6 C370.92,1472 378.03,1476.95 383.3,1481.6 C388.57,1486.25 392.9,1491.53 396.3,1496.5 C399.7,1501.47 401.85,1506.43 403.7,1511.4 C405.55,1516.37 406.78,1523.82 407.4,1526.3" fill="none" stroke="#ff0000" stroke-width="8.8" stroke-linejoin="round" stroke-linecap="round"/><path d="M416.7,1504 C417.95,1500.27 421.1,1488.43 424.2,1481.6 C427.3,1474.77 430.33,1469.82 435.3,1463 C440.27,1456.18 448.72,1445.5 454,1440.7 C459.28,1435.9 462.67,1435.4 467,1434.2 C471.33,1433 474.97,1434.12 480,1433.5 C485.03,1432.88 488.13,1432 497.2,1430.5 C506.27,1429 522,1426.17 534.4,1424.5 C546.8,1422.83 560.67,1421.58 571.6,1420.5 C582.53,1419.42 592.02,1419.48 600,1418 C607.98,1416.52 613,1413.53 619.5,1411.6 C626,1409.67 633.58,1408.35 639,1406.4 C644.42,1404.45 647.67,1401.63 652,1399.9 C656.33,1398.17 660.67,1397.73 665,1396 C669.33,1394.27 673.67,1392.75 678,1389.5 C682.33,1386.25 687.75,1380.83 691,1376.5 C694.25,1372.17 695.33,1368.48 697.5,1363.5 C699.67,1358.52 701.83,1352.02 704,1346.6 C706.17,1341.18 708.33,1336.63 710.5,1331 C712.67,1325.37 714.62,1318.87 717,1312.8 C719.38,1306.73 723.5,1297.63 724.8,1294.6" fill="none" stroke="#ff0000" stroke-width="8.8" stroke-linejoin="round" stroke-linecap="round"/><path d="M407.4,1526.3 L410.2,1556 L410.8,1593.3 L410.8,1641.6 L412,1590 L414,1540 L416.7,1504" fill="none" stroke="#ff0000" stroke-width="1.4" stroke-linejoin="round" stroke-linecap="round"/><path d="M407.4,1523.25 L410.59,1528.62 L404.21,1528.62 Z" fill="#fff" stroke="#ff0000" stroke-width="1.3"/><path d="M407.86,1528.11 L411.05,1533.47 L404.67,1533.47 Z" fill="#fff" stroke="#ff0000" stroke-width="1.3"/><path d="M408.37,1533.5 L411.56,1538.87 L405.18,1538.87 Z" fill="#fff" stroke="#ff0000" stroke-width="1.3"/><path d="M408.94,1539.57 L412.13,1544.93 L405.75,1544.93 Z" fill="#fff" stroke="#ff0000" stroke-width="1.3"/><path d="M409.59,1546.49 L412.78,1551.86 L406.4,1551.86 Z" fill="#fff" stroke="#ff0000" stroke-width="1.3"/><path d="M410.23,1554.55 L413.42,1559.91 L407.04,1559.91 Z" fill="#fff" stroke="#ff0000" stroke-width="1.3"/><path d="M410.38,1564.18 L413.57,1569.55 L407.19,1569.55 Z" fill="#fff" stroke="#ff0000" stroke-width="1.3"/><path d="M410.57,1576.06 L413.76,1581.43 L407.38,1581.43 Z" fill="#fff" stroke="#ff0000" stroke-width="1.3"/><path d="M410.8,1591.46 L413.99,1596.82 L407.61,1596.82 Z" fill="#fff" stroke="#ff0000" stroke-width="1.3"/><path d="M410.8,1612.97 L413.99,1618.34 L407.61,1618.34 Z" fill="#fff" stroke="#ff0000" stroke-width="1.3"/><path d="M416.48,1503.95 L419.67,1509.31 L413.29,1509.31 Z" fill="#fff" stroke="#ff0000" stroke-width="1.3"/><path d="M416.24,1507.14 L419.43,1512.5 L413.05,1512.5 Z" fill="#fff" stroke="#ff0000" stroke-width="1.3"/><path d="M415.98,1510.56 L419.17,1515.93 L412.79,1515.93 Z" fill="#fff" stroke="#ff0000" stroke-width="1.3"/><path d="M415.7,1514.25 L418.89,1519.61 L412.51,1519.61 Z" fill="#fff" stroke="#ff0000" stroke-width="1.3"/><path d="M415.4,1518.25 L418.59,1523.61 L412.21,1523.61 Z" fill="#fff" stroke="#ff0000" stroke-width="1.3"/><path d="M415.08,1522.6 L418.27,1527.97 L411.89,1527.97 Z" fill="#fff" stroke="#ff0000" stroke-width="1.3"/><path d="M414.72,1527.4 L417.91,1532.76 L411.53,1532.76 Z" fill="#fff" stroke="#ff0000" stroke-width="1.3"/><path d="M414.32,1532.72 L417.51,1538.08 L411.13,1538.08 Z" fill="#fff" stroke="#ff0000" stroke-width="1.3"/><path d="M413.93,1538.69 L417.12,1544.06 L410.74,1544.06 Z" fill="#fff" stroke="#ff0000" stroke-width="1.3"/><path d="M413.66,1545.51 L416.85,1550.88 L410.47,1550.88 Z" fill="#fff" stroke="#ff0000" stroke-width="1.3"/><path d="M413.34,1553.42 L416.53,1558.79 L410.15,1558.79 Z" fill="#fff" stroke="#ff0000" stroke-width="1.3"/><path d="M412.97,1562.81 L416.16,1568.18 L409.78,1568.18 Z" fill="#fff" stroke="#ff0000" stroke-width="1.3"/><path d="M412.5,1574.34 L415.69,1579.7 L409.31,1579.7 Z" fill="#fff" stroke="#ff0000" stroke-width="1.3"/><path d="M410.8,1638.55 L413.99,1643.92 L407.61,1643.92 Z" fill="#fff" stroke="#ff0000" stroke-width="1.3"/><path d="M724.2,1289.95 L727.39,1295.32 L721.01,1295.32 Z" fill="#fff" stroke="#ff0000" stroke-width="1.3"/><path d="M174.9,1394.2 C178.62,1396.05 187.28,1400.65 197.2,1405.3 C207.12,1409.95 222,1417.13 234.4,1422.1 C246.8,1427.07 260.75,1430.45 271.6,1435.1 C282.45,1439.75 291.75,1444.42 299.5,1450 C307.25,1455.58 311.9,1462.08 318.1,1468.6 C324.3,1475.12 330.5,1484.13 336.7,1489.1 C342.9,1494.07 349.08,1496.55 355.3,1498.4 C361.52,1500.25 368.42,1498.65 374,1500.2 C379.58,1501.75 385.08,1504.6 388.8,1507.7 C392.52,1510.8 394.43,1514.47 396.3,1518.8 C398.17,1523.13 399.38,1531.22 400,1533.7" fill="none" stroke="#008000" stroke-width="8.8" stroke-linejoin="round" stroke-linecap="round"/><path d="M417.7,1509.5 C418.78,1506.1 421.27,1496.23 424.2,1489.1 C427.13,1481.97 430.33,1474.15 435.3,1466.7 C440.27,1459.25 446.55,1448.58 454,1444.4 C461.45,1440.22 472.8,1441.72 480,1441.6 C487.2,1441.48 478.83,1443.65 497.2,1443.7 C515.57,1443.75 570.05,1442.37 590.2,1441.9 C610.35,1441.43 612.13,1441.4 618.1,1440.9 C624.07,1440.4 622.52,1440.97 626,1438.9 C629.48,1436.83 634.67,1432.62 639,1428.5 C643.33,1424.38 647.67,1419.18 652,1414.2 C656.33,1409.22 661.75,1403.15 665,1398.6 C668.25,1394.05 669.33,1391.67 671.5,1386.9 C673.67,1382.13 675.83,1375.85 678,1370 C680.17,1364.15 682.33,1357.87 684.5,1351.8 C686.67,1345.73 688.83,1339.23 691,1333.6 C693.17,1327.97 695.33,1323.2 697.5,1318 C699.67,1312.8 701.83,1307.17 704,1302.4 C706.17,1297.63 708.33,1293.3 710.5,1289.4 C712.67,1285.5 714.62,1281.82 717,1279 C719.38,1276.18 723.5,1273.58 724.8,1272.5" fill="none" stroke="#008000" stroke-width="8.8" stroke-linejoin="round" stroke-linecap="round"/><path d="M400,1533.7 L403.7,1556 L407.4,1584 L408.4,1600.7 L411,1570 L414.9,1537.4 L417.7,1509.5" fill="none" stroke="#008000" stroke-width="1.4" stroke-linejoin="round" stroke-linecap="round"/><path d="M400,1536.75 L403.19,1531.38 L396.81,1531.38 Z" fill="#fff" stroke="#008000" stroke-width="1.3"/><path d="M400.87,1541.99 L404.06,1536.63 L397.68,1536.63 Z" fill="#fff" stroke="#008000" stroke-width="1.3"/><path d="M401.86,1547.94 L405.05,1542.57 L398.67,1542.57 Z" fill="#fff" stroke="#008000" stroke-width="1.3"/><path d="M402.99,1554.78 L406.18,1549.41 L399.8,1549.41 Z" fill="#fff" stroke="#008000" stroke-width="1.3"/><path d="M404.2,1562.84 L407.39,1557.48 L401.01,1557.48 Z" fill="#fff" stroke="#008000" stroke-width="1.3"/><path d="M405.5,1572.63 L408.69,1567.27 L402.31,1567.27 Z" fill="#fff" stroke="#008000" stroke-width="1.3"/><path d="M407.13,1584.97 L410.32,1579.6 L403.94,1579.6 Z" fill="#fff" stroke="#008000" stroke-width="1.3"/><path d="M408.27,1601.59 L411.46,1596.23 L405.08,1596.23 Z" fill="#fff" stroke="#008000" stroke-width="1.3"/><path d="M417.4,1515.53 L420.59,1510.17 L414.21,1510.17 Z" fill="#fff" stroke="#008000" stroke-width="1.3"/><path d="M417.08,1518.73 L420.27,1513.37 L413.89,1513.37 Z" fill="#fff" stroke="#008000" stroke-width="1.3"/><path d="M416.73,1522.19 L419.92,1516.82 L413.54,1516.82 Z" fill="#fff" stroke="#008000" stroke-width="1.3"/><path d="M416.36,1525.94 L419.55,1520.58 L413.17,1520.58 Z" fill="#fff" stroke="#008000" stroke-width="1.3"/><path d="M415.94,1530.04 L419.13,1524.67 L412.75,1524.67 Z" fill="#fff" stroke="#008000" stroke-width="1.3"/><path d="M415.49,1534.56 L418.68,1529.19 L412.3,1529.19 Z" fill="#fff" stroke="#008000" stroke-width="1.3"/><path d="M414.99,1539.58 L418.18,1534.22 L411.8,1534.22 Z" fill="#fff" stroke="#008000" stroke-width="1.3"/><path d="M414.33,1545.24 L417.52,1539.87 L411.14,1539.87 Z" fill="#fff" stroke="#008000" stroke-width="1.3"/><path d="M413.55,1551.7 L416.74,1546.33 L410.36,1546.33 Z" fill="#fff" stroke="#008000" stroke-width="1.3"/><path d="M412.65,1559.22 L415.84,1553.86 L409.46,1553.86 Z" fill="#fff" stroke="#008000" stroke-width="1.3"/><path d="M408.4,1603.75 L411.59,1598.38 L405.21,1598.38 Z" fill="#fff" stroke="#008000" stroke-width="1.3"/><path d="M726,1277.55 L729.19,1272.18 L722.81,1272.18 Z" fill="#fff" stroke="#008000" stroke-width="1.3"/><path d="M174.9,1388.6 C178.62,1390.47 187.28,1395.45 197.2,1399.8 C207.12,1404.15 222,1410.05 234.4,1414.7 C246.8,1419.35 260.75,1423.05 271.6,1427.7 C282.45,1432.35 290.2,1437.95 299.5,1442.6 C308.8,1447.25 319.65,1451.88 327.4,1455.6 C335.15,1459.32 339.78,1462.27 346,1464.9 C352.22,1467.53 358.48,1469.55 364.7,1471.4 C370.92,1473.25 378.03,1473.68 383.3,1476 C388.57,1478.32 392.58,1481.88 396.3,1485.3 C400.02,1488.72 402.82,1492.77 405.6,1496.5 C408.38,1500.23 411.77,1505.83 413,1507.7" fill="none" stroke="#0000ff" stroke-width="8.8" stroke-linejoin="round" stroke-linecap="round"/><path d="M429.5,1515 C430.08,1512.67 431.72,1505.02 433,1501 C434.28,1496.98 434.63,1496.62 437.2,1490.9 C439.77,1485.18 444.37,1472.58 448.4,1466.7 C452.43,1460.82 456.13,1458.7 461.4,1455.6 C466.67,1452.5 474.03,1449.62 480,1448.1 C485.97,1446.58 481.93,1446.77 497.2,1446.5 C512.47,1446.23 553.47,1446.83 571.6,1446.5 C589.73,1446.17 599.1,1445.33 606,1444.5 C612.9,1443.67 609.67,1443.3 613,1441.5 C616.33,1439.7 621.67,1437.38 626,1433.7 C630.33,1430.02 634.67,1424.6 639,1419.4 C643.33,1414.2 648.75,1407.48 652,1402.5 C655.25,1397.52 656.33,1393.83 658.5,1389.5 C660.67,1385.17 662.83,1381.92 665,1376.5 C667.17,1371.08 669.33,1363.72 671.5,1357 C673.67,1350.28 675.83,1343.13 678,1336.2 C680.17,1329.27 682.33,1322.12 684.5,1315.4 C686.67,1308.68 688.83,1301.97 691,1295.9 C693.17,1289.83 695.33,1284.2 697.5,1279 C699.67,1273.8 702.48,1267.95 704,1264.7 C705.52,1261.45 706.17,1260.37 706.6,1259.5" fill="none" stroke="#0000ff" stroke-width="8.8" stroke-linejoin="round" stroke-linecap="round"/><path d="M413,1507.7 L418,1522.6 L419.5,1546.7 L420.5,1574.7 L421.7,1611.3 L422.5,1580 L423.7,1551 L426,1530 L429.5,1515" fill="none" stroke="#0000ff" stroke-width="1.4" stroke-linejoin="round" stroke-linecap="round"/><path d="M413,1504.22 L416.19,1507.7 L413,1511.18 L409.81,1507.7 Z" fill="#fff" stroke="#0000ff" stroke-width="1.3"/><path d="M413.95,1507.06 L417.14,1510.54 L413.95,1514.02 L410.76,1510.54 Z" fill="#fff" stroke="#0000ff" stroke-width="1.3"/><path d="M414.97,1510.08 L418.16,1513.56 L414.97,1517.04 L411.78,1513.56 Z" fill="#fff" stroke="#0000ff" stroke-width="1.3"/><path d="M416.05,1513.3 L419.24,1516.78 L416.05,1520.26 L412.86,1516.78 Z" fill="#fff" stroke="#0000ff" stroke-width="1.3"/><path d="M417.2,1516.73 L420.39,1520.21 L417.2,1523.69 L414.01,1520.21 Z" fill="#fff" stroke="#0000ff" stroke-width="1.3"/><path d="M418.09,1520.49 L421.28,1523.97 L418.09,1527.45 L414.9,1523.97 Z" fill="#fff" stroke="#0000ff" stroke-width="1.3"/><path d="M418.35,1524.7 L421.54,1528.18 L418.35,1531.66 L415.16,1528.18 Z" fill="#fff" stroke="#0000ff" stroke-width="1.3"/><path d="M418.63,1529.28 L421.82,1532.76 L418.63,1536.24 L415.44,1532.76 Z" fill="#fff" stroke="#0000ff" stroke-width="1.3"/><path d="M418.95,1534.33 L422.14,1537.81 L418.95,1541.29 L415.76,1537.81 Z" fill="#fff" stroke="#0000ff" stroke-width="1.3"/><path d="M419.3,1539.94 L422.49,1543.42 L419.3,1546.9 L416.11,1543.42 Z" fill="#fff" stroke="#0000ff" stroke-width="1.3"/><path d="M419.61,1546.25 L422.8,1549.73 L419.61,1553.21 L416.42,1549.73 Z" fill="#fff" stroke="#0000ff" stroke-width="1.3"/><path d="M419.87,1553.45 L423.06,1556.93 L419.87,1560.41 L416.68,1556.93 Z" fill="#fff" stroke="#0000ff" stroke-width="1.3"/><path d="M420.16,1561.82 L423.35,1565.3 L420.16,1568.78 L416.97,1565.3 Z" fill="#fff" stroke="#0000ff" stroke-width="1.3"/><path d="M420.52,1571.78 L423.71,1575.26 L420.52,1578.74 L417.33,1575.26 Z" fill="#fff" stroke="#0000ff" stroke-width="1.3"/><path d="M420.92,1584.03 L424.11,1587.51 L420.92,1590.99 L417.73,1587.51 Z" fill="#fff" stroke="#0000ff" stroke-width="1.3"/><path d="M421.44,1599.86 L424.63,1603.34 L421.44,1606.82 L418.25,1603.34 Z" fill="#fff" stroke="#0000ff" stroke-width="1.3"/><path d="M428.71,1514.92 L431.9,1518.4 L428.71,1521.88 L425.52,1518.4 Z" fill="#fff" stroke="#0000ff" stroke-width="1.3"/><path d="M427.85,1518.57 L431.04,1522.05 L427.85,1525.53 L424.66,1522.05 Z" fill="#fff" stroke="#0000ff" stroke-width="1.3"/><path d="M426.93,1522.51 L430.12,1525.99 L426.93,1529.47 L423.74,1525.99 Z" fill="#fff" stroke="#0000ff" stroke-width="1.3"/><path d="M425.97,1526.8 L429.16,1530.28 L425.97,1533.76 L422.78,1530.28 Z" fill="#fff" stroke="#0000ff" stroke-width="1.3"/><path d="M425.45,1531.57 L428.64,1535.05 L425.45,1538.53 L422.26,1535.05 Z" fill="#fff" stroke="#0000ff" stroke-width="1.3"/><path d="M424.87,1536.85 L428.06,1540.33 L424.87,1543.81 L421.68,1540.33 Z" fill="#fff" stroke="#0000ff" stroke-width="1.3"/><path d="M424.22,1542.73 L427.41,1546.21 L424.22,1549.69 L421.03,1546.21 Z" fill="#fff" stroke="#0000ff" stroke-width="1.3"/><path d="M423.62,1549.4 L426.81,1552.88 L423.62,1556.36 L420.43,1552.88 Z" fill="#fff" stroke="#0000ff" stroke-width="1.3"/><path d="M423.3,1557.08 L426.49,1560.56 L423.3,1564.04 L420.11,1560.56 Z" fill="#fff" stroke="#0000ff" stroke-width="1.3"/><path d="M421.7,1607.82 L424.89,1611.3 L421.7,1614.78 L418.51,1611.3 Z" fill="#fff" stroke="#0000ff" stroke-width="1.3"/><path d="M707.4,1255.02 L710.59,1258.5 L707.4,1261.98 L704.21,1258.5 Z" fill="#fff" stroke="#0000ff" stroke-width="1.3"/><rect x="286" y="1236.5" width="280.5" height="153.5" fill="none" stroke="#1a1a1a" stroke-width="1.5"/><line x1="303.5" y1="1262.5" x2="370" y2="1262.5" stroke="#000000" stroke-width="1.5"/><circle cx="336.5" cy="1262.5" r="3.2" fill="#fff" stroke="#000000" stroke-width="1.3"/><text x="377.5" y="1272.8" font-size="25.5" font-family="'Liberation Serif', 'Times New Roman', serif" fill="#000" stroke="#000" stroke-width="0.45" textLength="180" lengthAdjust="spacingAndGlyphs">with no modifiers</text><line x1="303.5" y1="1299" x2="370" y2="1299" stroke="#ff0000" stroke-width="1.5"/><path d="M336.5,1295.64 L340.02,1301.56 L332.98,1301.56 Z" fill="#fff" stroke="#ff0000" stroke-width="1.3"/><text x="377.5" y="1309.3" font-size="25.5" font-family="'Liberation Serif', 'Times New Roman', serif" fill="#000" stroke="#000" stroke-width="0.45" textLength="176" lengthAdjust="spacingAndGlyphs">with 0.2% Ce+Ti</text><line x1="303.5" y1="1336.5" x2="370" y2="1336.5" stroke="#008000" stroke-width="1.5"/><path d="M336.5,1339.86 L340.02,1333.94 L332.98,1333.94 Z" fill="#fff" stroke="#008000" stroke-width="1.3"/><text x="377.5" y="1346.8" font-size="25.5" font-family="'Liberation Serif', 'Times New Roman', serif" fill="#000" stroke="#000" stroke-width="0.45" textLength="176" lengthAdjust="spacingAndGlyphs">with 0.5% Ce+Ti</text><line x1="303.5" y1="1374" x2="370" y2="1374" stroke="#0000ff" stroke-width="1.5"/><path d="M336.5,1370.16 L340.02,1374 L336.5,1377.84 L332.98,1374 Z" fill="#fff" stroke="#0000ff" stroke-width="1.3"/><text x="377.5" y="1384.3" font-size="25.5" font-family="'Liberation Serif', 'Times New Roman', serif" fill="#000" stroke="#000" stroke-width="0.45" textLength="176" lengthAdjust="spacingAndGlyphs">with 1.0% Ce+Ti</text><rect x="994" y="16.5" width="647.5" height="480" fill="none" stroke="#000" stroke-width="2"/><line x1="1048.7" y1="495.5" x2="1048.7" y2="486.5" stroke="#000" stroke-width="2"/><text x="1048.7" y="523.5" font-size="21" font-family="'Liberation Serif', 'Times New Roman', serif" fill="#1a1a1a" text-anchor="middle" textLength="23.5" lengthAdjust="spacingAndGlyphs">0.0</text><line x1="1102.62" y1="495.5" x2="1102.62" y2="492" stroke="#000" stroke-width="2"/><line x1="1156.54" y1="495.5" x2="1156.54" y2="486.5" stroke="#000" stroke-width="2"/><text x="1156.54" y="523.5" font-size="21" font-family="'Liberation Serif', 'Times New Roman', serif" fill="#1a1a1a" text-anchor="middle" textLength="23.5" lengthAdjust="spacingAndGlyphs">0.2</text><line x1="1210.46" y1="495.5" x2="1210.46" y2="492" stroke="#000" stroke-width="2"/><line x1="1264.38" y1="495.5" x2="1264.38" y2="486.5" stroke="#000" stroke-width="2"/><text x="1264.38" y="523.5" font-size="21" font-family="'Liberation Serif', 'Times New Roman', serif" fill="#1a1a1a" text-anchor="middle" textLength="23.5" lengthAdjust="spacingAndGlyphs">0.4</text><line x1="1318.3" y1="495.5" x2="1318.3" y2="492" stroke="#000" stroke-width="2"/><line x1="1372.22" y1="495.5" x2="1372.22" y2="486.5" stroke="#000" stroke-width="2"/><text x="1372.22" y="523.5" font-size="21" font-family="'Liberation Serif', 'Times New Roman', serif" fill="#1a1a1a" text-anchor="middle" textLength="23.5" lengthAdjust="spacingAndGlyphs">0.6</text><line x1="1426.14" y1="495.5" x2="1426.14" y2="492" stroke="#000" stroke-width="2"/><line x1="1480.06" y1="495.5" x2="1480.06" y2="486.5" stroke="#000" stroke-width="2"/><text x="1480.06" y="523.5" font-size="21" font-family="'Liberation Serif', 'Times New Roman', serif" fill="#1a1a1a" text-anchor="middle" textLength="23.5" lengthAdjust="spacingAndGlyphs">0.8</text><line x1="1533.98" y1="495.5" x2="1533.98" y2="492" stroke="#000" stroke-width="2"/><line x1="1587.9" y1="495.5" x2="1587.9" y2="486.5" stroke="#000" stroke-width="2"/><text x="1587.9" y="523.5" font-size="21" font-family="'Liberation Serif', 'Times New Roman', serif" fill="#1a1a1a" text-anchor="middle" textLength="23.5" lengthAdjust="spacingAndGlyphs">1.0</text><text x="983.5" y="22.5" font-size="21" font-family="'Liberation Serif', 'Times New Roman', serif" fill="#1a1a1a" text-anchor="end" textLength="42" lengthAdjust="spacingAndGlyphs">-0.45</text><line x1="995" y1="44.79" x2="998.5" y2="44.79" stroke="#000" stroke-width="2"/><line x1="995" y1="73.07" x2="1004" y2="73.07" stroke="#000" stroke-width="2"/><text x="983.5" y="79.07" font-size="21" font-family="'Liberation Serif', 'Times New Roman', serif" fill="#1a1a1a" text-anchor="end" textLength="42" lengthAdjust="spacingAndGlyphs">-0.46</text><line x1="995" y1="101.36" x2="998.5" y2="101.36" stroke="#000" stroke-width="2"/><line x1="995" y1="129.64" x2="1004" y2="129.64" stroke="#000" stroke-width="2"/><text x="983.5" y="135.64" font-size="21" font-family="'Liberation Serif', 'Times New Roman', serif" fill="#1a1a1a" text-anchor="end" textLength="42" lengthAdjust="spacingAndGlyphs">-0.47</text><line x1="995" y1="157.93" x2="998.5" y2="157.93" stroke="#000" stroke-width="2"/><line x1="995" y1="186.21" x2="1004" y2="186.21" stroke="#000" stroke-width="2"/><text x="983.5" y="192.21" font-size="21" font-family="'Liberation Serif', 'Times New Roman', serif" fill="#1a1a1a" text-anchor="end" textLength="42" lengthAdjust="spacingAndGlyphs">-0.48</text><line x1="995" y1="214.49" x2="998.5" y2="214.49" stroke="#000" stroke-width="2"/><line x1="995" y1="242.78" x2="1004" y2="242.78" stroke="#000" stroke-width="2"/><text x="983.5" y="248.78" font-size="21" font-family="'Liberation Serif', 'Times New Roman', serif" fill="#1a1a1a" text-anchor="end" textLength="42" lengthAdjust="spacingAndGlyphs">-0.49</text><line x1="995" y1="271.06" x2="998.5" y2="271.06" stroke="#000" stroke-width="2"/><line x1="995" y1="299.35" x2="1004" y2="299.35" stroke="#000" stroke-width="2"/><text x="983.5" y="305.35" font-size="21" font-family="'Liberation Serif', 'Times New Roman', serif" fill="#1a1a1a" text-anchor="end" textLength="42" lengthAdjust="spacingAndGlyphs">-0.50</text><line x1="995" y1="327.63" x2="998.5" y2="327.63" stroke="#000" stroke-width="2"/><line x1="995" y1="355.92" x2="1004" y2="355.92" stroke="#000" stroke-width="2"/><text x="983.5" y="361.92" font-size="21" font-family="'Liberation Serif', 'Times New Roman', serif" fill="#1a1a1a" text-anchor="end" textLength="42" lengthAdjust="spacingAndGlyphs">-0.51</text><line x1="995" y1="384.2" x2="998.5" y2="384.2" stroke="#000" stroke-width="2"/><line x1="995" y1="412.49" x2="1004" y2="412.49" stroke="#000" stroke-width="2"/><text x="983.5" y="418.49" font-size="21" font-family="'Liberation Serif', 'Times New Roman', serif" fill="#1a1a1a" text-anchor="end" textLength="42" lengthAdjust="spacingAndGlyphs">-0.52</text><line x1="995" y1="440.78" x2="998.5" y2="440.78" stroke="#000" stroke-width="2"/><line x1="995" y1="469.06" x2="1004" y2="469.06" stroke="#000" stroke-width="2"/><text x="983.5" y="475.06" font-size="21" font-family="'Liberation Serif', 'Times New Roman', serif" fill="#1a1a1a" text-anchor="end" textLength="42" lengthAdjust="spacingAndGlyphs">-0.53</text><text x="1651.5" y="502.5" font-size="21" font-family="'Liberation Serif', 'Times New Roman', serif" fill="#1a1a1a" textLength="25" lengthAdjust="spacingAndGlyphs">2.0</text><line x1="1640.5" y1="452.85" x2="1637" y2="452.85" stroke="#000" stroke-width="2"/><line x1="1640.5" y1="409.2" x2="1631.5" y2="409.2" stroke="#000" stroke-width="2"/><text x="1651.5" y="415.2" font-size="21" font-family="'Liberation Serif', 'Times New Roman', serif" fill="#1a1a1a" textLength="25" lengthAdjust="spacingAndGlyphs">2.2</text><line x1="1640.5" y1="365.55" x2="1637" y2="365.55" stroke="#000" stroke-width="2"/><line x1="1640.5" y1="321.9" x2="1631.5" y2="321.9" stroke="#000" stroke-width="2"/><text x="1651.5" y="327.9" font-size="21" font-family="'Liberation Serif', 'Times New Roman', serif" fill="#1a1a1a" textLength="25" lengthAdjust="spacingAndGlyphs">2.4</text><line x1="1640.5" y1="278.25" x2="1637" y2="278.25" stroke="#000" stroke-width="2"/><line x1="1640.5" y1="234.6" x2="1631.5" y2="234.6" stroke="#000" stroke-width="2"/><text x="1651.5" y="240.6" font-size="21" font-family="'Liberation Serif', 'Times New Roman', serif" fill="#1a1a1a" textLength="25" lengthAdjust="spacingAndGlyphs">2.6</text><line x1="1640.5" y1="190.95" x2="1637" y2="190.95" stroke="#000" stroke-width="2"/><line x1="1640.5" y1="147.3" x2="1631.5" y2="147.3" stroke="#000" stroke-width="2"/><text x="1651.5" y="153.3" font-size="21" font-family="'Liberation Serif', 'Times New Roman', serif" fill="#1a1a1a" textLength="25" lengthAdjust="spacingAndGlyphs">2.8</text><line x1="1640.5" y1="103.65" x2="1637" y2="103.65" stroke="#000" stroke-width="2"/><line x1="1640.5" y1="60" x2="1631.5" y2="60" stroke="#000" stroke-width="2"/><text x="1651.5" y="66" font-size="21" font-family="'Liberation Serif', 'Times New Roman', serif" fill="#1a1a1a" textLength="25" lengthAdjust="spacingAndGlyphs">3.0</text><text x="869.8" y="41.5" font-size="52" font-family="'Liberation Serif', 'Times New Roman', serif" fill="#000" stroke="#000" stroke-width="0.3">(b)</text><text transform="translate(925,256) rotate(-90)" x="0" y="0" font-size="26" font-family="'Liberation Serif', 'Times New Roman', serif" text-anchor="middle" stroke="#000" stroke-width="0.35" textLength="69.5" lengthAdjust="spacingAndGlyphs">E<tspan font-size="17" dy="7">corr</tspan><tspan dy="-7">/V</tspan></text><text transform="translate(1708.5,256) rotate(-90)" x="0" y="0" font-size="25" font-family="'Liberation Serif', 'Times New Roman', serif" text-anchor="middle" stroke="#000" stroke-width="0.35" textLength="167" lengthAdjust="spacingAndGlyphs">J<tspan font-size="16" dy="7">corr</tspan><tspan dy="-7">/(μA • cm</tspan><tspan font-size="15" dy="-10">-2</tspan><tspan dy="10">)</tspan></text><text x="1277.5" y="564" font-size="26" font-family="'Liberation Serif', 'Times New Roman', serif" fill="#000" stroke="#000" stroke-width="0.35" textLength="82.5" lengthAdjust="spacingAndGlyphs">Ti/wt.%</text><polyline points="1048.7,395.52 1156.54,67.41 1318.3,271.06 1587.9,446.43" fill="none" stroke="#008000" stroke-width="1.4" stroke-linejoin="round"/><rect x="1042.5" y="389.72" width="12.4" height="11.6" fill="#008000" rx="1"/><rect x="1150.34" y="61.61" width="12.4" height="11.6" fill="#008000" rx="1"/><rect x="1312.1" y="265.26" width="12.4" height="11.6" fill="#008000" rx="1"/><rect x="1581.7" y="440.63" width="12.4" height="11.6" fill="#008000" rx="1"/><polyline points="1048.7,356.82 1156.54,404.84 1318.3,387.38 1587.9,138.57" fill="none" stroke="#ff8000" stroke-width="1.4" stroke-linejoin="round"/><circle cx="1048.7" cy="356.82" r="6.4" fill="#ff8000"/><circle cx="1156.54" cy="404.84" r="6.4" fill="#ff8000"/><circle cx="1318.3" cy="387.38" r="6.4" fill="#ff8000"/><circle cx="1587.9" cy="138.57" r="6.4" fill="#ff8000"/><text x="1120" y="49.5" font-size="26" font-family="'Liberation Serif', 'Times New Roman', serif" fill="#000" stroke="#000" stroke-width="0.4" textLength="64" lengthAdjust="spacingAndGlyphs">-0.459</text><text x="1336" y="278" font-size="26" font-family="'Liberation Serif', 'Times New Roman', serif" fill="#000" stroke="#000" stroke-width="0.4" textLength="65.5" lengthAdjust="spacingAndGlyphs">-0.495</text><text x="1015" y="431" font-size="26" font-family="'Liberation Serif', 'Times New Roman', serif" fill="#000" stroke="#000" stroke-width="0.4" textLength="65" lengthAdjust="spacingAndGlyphs">-0.517</text><text x="1554" y="424.5" font-size="26" font-family="'Liberation Serif', 'Times New Roman', serif" fill="#000" stroke="#000" stroke-width="0.4" textLength="65" lengthAdjust="spacingAndGlyphs">-0.526</text><text x="1010" y="341" font-size="26" font-family="'Liberation Serif', 'Times New Roman', serif" fill="#000" stroke="#000" stroke-width="0.4" textLength="45" lengthAdjust="spacingAndGlyphs">2.32</text><text x="1132.5" y="387" font-size="26" font-family="'Liberation Serif', 'Times New Roman', serif" fill="#000" stroke="#000" stroke-width="0.4" textLength="43.5" lengthAdjust="spacingAndGlyphs">2.21</text><text x="1293.5" y="423" font-size="26" font-family="'Liberation Serif', 'Times New Roman', serif" fill="#000" stroke="#000" stroke-width="0.4" textLength="44" lengthAdjust="spacingAndGlyphs">2.25</text><text x="1519" y="146" font-size="26" font-family="'Liberation Serif', 'Times New Roman', serif" fill="#000" stroke="#000" stroke-width="0.4" textLength="43.5" lengthAdjust="spacingAndGlyphs">2.82</text><rect x="1333.5" y="31.5" width="285.5" height="74" fill="#fff" stroke="#1a1a1a" stroke-width="1.5"/><line x1="1344" y1="52.6" x2="1401.5" y2="52.6" stroke="#008000" stroke-width="1.4"/><rect x="1366.3" y="46.8" width="12.4" height="11.6" fill="#008000" rx="1"/><text x="1407.5" y="60.8" font-size="25.5" font-family="'Liberation Serif', 'Times New Roman', serif" fill="#000" stroke="#000" stroke-width="0.4" textLength="196.5" lengthAdjust="spacingAndGlyphs">Corrosion potential</text><line x1="1344" y1="86.2" x2="1401.5" y2="86.2" stroke="#ff8000" stroke-width="1.4"/><circle cx="1375" cy="86.2" r="6.4" fill="#ff8000"/><text x="1410" y="94.4" font-size="25.5" font-family="'Liberation Serif', 'Times New Roman', serif" fill="#000" stroke="#000" stroke-width="0.4" textLength="181" lengthAdjust="spacingAndGlyphs">Corrosion current</text><rect x="994" y="626.5" width="647.5" height="473.5" fill="none" stroke="#000" stroke-width="2"/><line x1="1048.7" y1="1099" x2="1048.7" y2="1090" stroke="#000" stroke-width="2"/><text x="1048.7" y="1127" font-size="21" font-family="'Liberation Serif', 'Times New Roman', serif" fill="#1a1a1a" text-anchor="middle" textLength="23.5" lengthAdjust="spacingAndGlyphs">0.0</text><line x1="1102.62" y1="1099" x2="1102.62" y2="1095.5" stroke="#000" stroke-width="2"/><line x1="1156.54" y1="1099" x2="1156.54" y2="1090" stroke="#000" stroke-width="2"/><text x="1156.54" y="1127" font-size="21" font-family="'Liberation Serif', 'Times New Roman', serif" fill="#1a1a1a" text-anchor="middle" textLength="23.5" lengthAdjust="spacingAndGlyphs">0.2</text><line x1="1210.46" y1="1099" x2="1210.46" y2="1095.5" stroke="#000" stroke-width="2"/><line x1="1264.38" y1="1099" x2="1264.38" y2="1090" stroke="#000" stroke-width="2"/><text x="1264.38" y="1127" font-size="21" font-family="'Liberation Serif', 'Times New Roman', serif" fill="#1a1a1a" text-anchor="middle" textLength="23.5" lengthAdjust="spacingAndGlyphs">0.4</text><line x1="1318.3" y1="1099" x2="1318.3" y2="1095.5" stroke="#000" stroke-width="2"/><line x1="1372.22" y1="1099" x2="1372.22" y2="1090" stroke="#000" stroke-width="2"/><text x="1372.22" y="1127" font-size="21" font-family="'Liberation Serif', 'Times New Roman', serif" fill="#1a1a1a" text-anchor="middle" textLength="23.5" lengthAdjust="spacingAndGlyphs">0.6</text><line x1="1426.14" y1="1099" x2="1426.14" y2="1095.5" stroke="#000" stroke-width="2"/><line x1="1480.06" y1="1099" x2="1480.06" y2="1090" stroke="#000" stroke-width="2"/><text x="1480.06" y="1127" font-size="21" font-family="'Liberation Serif', 'Times New Roman', serif" fill="#1a1a1a" text-anchor="middle" textLength="23.5" lengthAdjust="spacingAndGlyphs">0.8</text><line x1="1533.98" y1="1099" x2="1533.98" y2="1095.5" stroke="#000" stroke-width="2"/><line x1="1587.9" y1="1099" x2="1587.9" y2="1090" stroke="#000" stroke-width="2"/><text x="1587.9" y="1127" font-size="21" font-family="'Liberation Serif', 'Times New Roman', serif" fill="#1a1a1a" text-anchor="middle" textLength="23.5" lengthAdjust="spacingAndGlyphs">1.0</text><line x1="995" y1="686" x2="1004" y2="686" stroke="#000" stroke-width="2"/><text x="983.5" y="692" font-size="21" font-family="'Liberation Serif', 'Times New Roman', serif" fill="#1a1a1a" text-anchor="end" textLength="44" lengthAdjust="spacingAndGlyphs">-0.52</text><line x1="995" y1="745" x2="998.5" y2="745" stroke="#000" stroke-width="2"/><line x1="995" y1="804" x2="1004" y2="804" stroke="#000" stroke-width="2"/><text x="983.5" y="810" font-size="21" font-family="'Liberation Serif', 'Times New Roman', serif" fill="#1a1a1a" text-anchor="end" textLength="44" lengthAdjust="spacingAndGlyphs">-0.54</text><line x1="995" y1="863" x2="998.5" y2="863" stroke="#000" stroke-width="2"/><line x1="995" y1="922" x2="1004" y2="922" stroke="#000" stroke-width="2"/><text x="983.5" y="928" font-size="21" font-family="'Liberation Serif', 'Times New Roman', serif" fill="#1a1a1a" text-anchor="end" textLength="44" lengthAdjust="spacingAndGlyphs">-0.56</text><line x1="995" y1="981" x2="998.5" y2="981" stroke="#000" stroke-width="2"/><line x1="995" y1="1040" x2="1004" y2="1040" stroke="#000" stroke-width="2"/><text x="983.5" y="1046" font-size="21" font-family="'Liberation Serif', 'Times New Roman', serif" fill="#1a1a1a" text-anchor="end" textLength="44" lengthAdjust="spacingAndGlyphs">-0.58</text><line x1="995" y1="1099" x2="998.5" y2="1099" stroke="#000" stroke-width="2"/><text x="1651.5" y="1106" font-size="21" font-family="'Liberation Serif', 'Times New Roman', serif" fill="#1a1a1a" textLength="25" lengthAdjust="spacingAndGlyphs">0.0</text><line x1="1640.5" y1="1063.05" x2="1637" y2="1063.05" stroke="#000" stroke-width="2"/><line x1="1640.5" y1="1026.1" x2="1631.5" y2="1026.1" stroke="#000" stroke-width="2"/><text x="1651.5" y="1032.1" font-size="21" font-family="'Liberation Serif', 'Times New Roman', serif" fill="#1a1a1a" textLength="25" lengthAdjust="spacingAndGlyphs">0.5</text><line x1="1640.5" y1="989.15" x2="1637" y2="989.15" stroke="#000" stroke-width="2"/><line x1="1640.5" y1="952.2" x2="1631.5" y2="952.2" stroke="#000" stroke-width="2"/><text x="1651.5" y="958.2" font-size="21" font-family="'Liberation Serif', 'Times New Roman', serif" fill="#1a1a1a" textLength="25" lengthAdjust="spacingAndGlyphs">1.0</text><line x1="1640.5" y1="915.25" x2="1637" y2="915.25" stroke="#000" stroke-width="2"/><line x1="1640.5" y1="878.3" x2="1631.5" y2="878.3" stroke="#000" stroke-width="2"/><text x="1651.5" y="884.3" font-size="21" font-family="'Liberation Serif', 'Times New Roman', serif" fill="#1a1a1a" textLength="25" lengthAdjust="spacingAndGlyphs">1.5</text><line x1="1640.5" y1="841.35" x2="1637" y2="841.35" stroke="#000" stroke-width="2"/><line x1="1640.5" y1="804.4" x2="1631.5" y2="804.4" stroke="#000" stroke-width="2"/><text x="1651.5" y="810.4" font-size="21" font-family="'Liberation Serif', 'Times New Roman', serif" fill="#1a1a1a" textLength="25" lengthAdjust="spacingAndGlyphs">2.0</text><line x1="1640.5" y1="767.45" x2="1637" y2="767.45" stroke="#000" stroke-width="2"/><line x1="1640.5" y1="730.5" x2="1631.5" y2="730.5" stroke="#000" stroke-width="2"/><text x="1651.5" y="736.5" font-size="21" font-family="'Liberation Serif', 'Times New Roman', serif" fill="#1a1a1a" textLength="25" lengthAdjust="spacingAndGlyphs">2.5</text><line x1="1640.5" y1="693.55" x2="1637" y2="693.55" stroke="#000" stroke-width="2"/><line x1="1640.5" y1="656.6" x2="1631.5" y2="656.6" stroke="#000" stroke-width="2"/><text x="1651.5" y="662.6" font-size="21" font-family="'Liberation Serif', 'Times New Roman', serif" fill="#1a1a1a" textLength="25" lengthAdjust="spacingAndGlyphs">3.0</text><text x="867.5" y="646.5" font-size="52" font-family="'Liberation Serif', 'Times New Roman', serif" fill="#000" stroke="#000" stroke-width="0.3">(d)</text><text transform="translate(925,862.5) rotate(-90)" x="0" y="0" font-size="26" font-family="'Liberation Serif', 'Times New Roman', serif" text-anchor="middle" stroke="#000" stroke-width="0.35" textLength="69.5" lengthAdjust="spacingAndGlyphs">E<tspan font-size="17" dy="7">corr</tspan><tspan dy="-7">/V</tspan></text><text transform="translate(1708.5,862) rotate(-90)" x="0" y="0" font-size="25" font-family="'Liberation Serif', 'Times New Roman', serif" text-anchor="middle" stroke="#000" stroke-width="0.35" textLength="167" lengthAdjust="spacingAndGlyphs">J<tspan font-size="16" dy="7">corr</tspan><tspan dy="-7">/(μA • cm</tspan><tspan font-size="15" dy="-10">-2</tspan><tspan dy="10">)</tspan></text><text x="1274" y="1166" font-size="26" font-family="'Liberation Serif', 'Times New Roman', serif" fill="#000" stroke="#000" stroke-width="0.35" textLength="87.5" lengthAdjust="spacingAndGlyphs">Ce/wt.%</text><polyline points="1048.7,668.3 1075.66,768.6 1102.62,892.5 1156.54,1004.6 1318.3,951.5 1587.9,668.3" fill="none" stroke="#008000" stroke-width="1.4" stroke-linejoin="round"/><rect x="1042.5" y="662.5" width="12.4" height="11.6" fill="#008000" rx="1"/><rect x="1069.46" y="762.8" width="12.4" height="11.6" fill="#008000" rx="1"/><rect x="1096.42" y="886.7" width="12.4" height="11.6" fill="#008000" rx="1"/><rect x="1150.34" y="998.8" width="12.4" height="11.6" fill="#008000" rx="1"/><rect x="1312.1" y="945.7" width="12.4" height="11.6" fill="#008000" rx="1"/><rect x="1581.7" y="662.5" width="12.4" height="11.6" fill="#008000" rx="1"/><polyline points="1048.7,756.81 1075.66,894.26 1102.62,918.21 1156.54,1057.88 1318.3,1036.74 1587.9,700.94" fill="none" stroke="#ff8000" stroke-width="1.4" stroke-linejoin="round"/><circle cx="1048.7" cy="756.81" r="6.4" fill="#ff8000"/><circle cx="1075.66" cy="894.26" r="6.4" fill="#ff8000"/><circle cx="1102.62" cy="918.21" r="6.4" fill="#ff8000"/><circle cx="1156.54" cy="1057.88" r="6.4" fill="#ff8000"/><circle cx="1318.3" cy="1036.74" r="6.4" fill="#ff8000"/><circle cx="1587.9" cy="700.94" r="6.4" fill="#ff8000"/><text x="1021" y="650" font-size="26" font-family="'Liberation Serif', 'Times New Roman', serif" fill="#000" stroke="#000" stroke-width="0.4" textLength="65" lengthAdjust="spacingAndGlyphs">-0.517</text><text x="1560" y="650" font-size="26" font-family="'Liberation Serif', 'Times New Roman', serif" fill="#000" stroke="#000" stroke-width="0.4" textLength="65" lengthAdjust="spacingAndGlyphs">-0.517</text><text x="1046" y="752" font-size="26" font-family="'Liberation Serif', 'Times New Roman', serif" fill="#000" stroke="#000" stroke-width="0.4" textLength="65.5" lengthAdjust="spacingAndGlyphs">-0.534</text><text x="1006" y="785" font-size="26" font-family="'Liberation Serif', 'Times New Roman', serif" fill="#000" stroke="#000" stroke-width="0.4" textLength="56.5" lengthAdjust="spacingAndGlyphs">2.322</text><text x="1072.5" y="875.5" font-size="26" font-family="'Liberation Serif', 'Times New Roman', serif" fill="#000" stroke="#000" stroke-width="0.4" textLength="65" lengthAdjust="spacingAndGlyphs">-0.555</text><text x="1034" y="920" font-size="26" font-family="'Liberation Serif', 'Times New Roman', serif" fill="#000" stroke="#000" stroke-width="0.4" textLength="56" lengthAdjust="spacingAndGlyphs">1.392</text><text x="1067.5" y="944.5" font-size="26" font-family="'Liberation Serif', 'Times New Roman', serif" fill="#000" stroke="#000" stroke-width="0.4" textLength="42.5" lengthAdjust="spacingAndGlyphs">1.23</text><text x="1290" y="934.5" font-size="26" font-family="'Liberation Serif', 'Times New Roman', serif" fill="#000" stroke="#000" stroke-width="0.4" textLength="65" lengthAdjust="spacingAndGlyphs">-0.565</text><text x="1127.5" y="988" font-size="26" font-family="'Liberation Serif', 'Times New Roman', serif" fill="#000" stroke="#000" stroke-width="0.4" textLength="65" lengthAdjust="spacingAndGlyphs">-0.574</text><text x="1114" y="1084" font-size="26" font-family="'Liberation Serif', 'Times New Roman', serif" fill="#000" stroke="#000" stroke-width="0.4" textLength="56" lengthAdjust="spacingAndGlyphs">0.285</text><text x="1275" y="1063.5" font-size="26" font-family="'Liberation Serif', 'Times New Roman', serif" fill="#000" stroke="#000" stroke-width="0.4" textLength="56.5" lengthAdjust="spacingAndGlyphs">0.428</text><text x="1557.5" y="728.5" font-size="26" font-family="'Liberation Serif', 'Times New Roman', serif" fill="#000" stroke="#000" stroke-width="0.4" textLength="31.5" lengthAdjust="spacingAndGlyphs">2.7</text><rect x="1223" y="641.5" width="278" height="69" fill="#fff" stroke="#1a1a1a" stroke-width="1.5"/><line x1="1232.5" y1="662.5" x2="1289" y2="662.5" stroke="#008000" stroke-width="1.4"/><rect x="1254.3" y="656.7" width="12.4" height="11.6" fill="#008000" rx="1"/><text x="1295" y="670.7" font-size="25.5" font-family="'Liberation Serif', 'Times New Roman', serif" fill="#000" stroke="#000" stroke-width="0.4" textLength="196.5" lengthAdjust="spacingAndGlyphs">Corrosion potential</text><line x1="1232.5" y1="692.5" x2="1289" y2="692.5" stroke="#ff8000" stroke-width="1.4"/><circle cx="1260.5" cy="692.5" r="6.4" fill="#ff8000"/><text x="1295" y="700.7" font-size="25.5" font-family="'Liberation Serif', 'Times New Roman', serif" fill="#000" stroke="#000" stroke-width="0.4" textLength="181" lengthAdjust="spacingAndGlyphs">Corrosion current</text><rect x="994" y="1226.5" width="647.5" height="473.5" fill="none" stroke="#000" stroke-width="2"/><line x1="1048.7" y1="1699" x2="1048.7" y2="1690" stroke="#000" stroke-width="2"/><text x="1048.7" y="1727" font-size="21" font-family="'Liberation Serif', 'Times New Roman', serif" fill="#1a1a1a" text-anchor="middle" textLength="23.5" lengthAdjust="spacingAndGlyphs">0.0</text><line x1="1102.62" y1="1699" x2="1102.62" y2="1695.5" stroke="#000" stroke-width="2"/><line x1="1156.54" y1="1699" x2="1156.54" y2="1690" stroke="#000" stroke-width="2"/><text x="1156.54" y="1727" font-size="21" font-family="'Liberation Serif', 'Times New Roman', serif" fill="#1a1a1a" text-anchor="middle" textLength="23.5" lengthAdjust="spacingAndGlyphs">0.2</text><line x1="1210.46" y1="1699" x2="1210.46" y2="1695.5" stroke="#000" stroke-width="2"/><line x1="1264.38" y1="1699" x2="1264.38" y2="1690" stroke="#000" stroke-width="2"/><text x="1264.38" y="1727" font-size="21" font-family="'Liberation Serif', 'Times New Roman', serif" fill="#1a1a1a" text-anchor="middle" textLength="23.5" lengthAdjust="spacingAndGlyphs">0.4</text><line x1="1318.3" y1="1699" x2="1318.3" y2="1695.5" stroke="#000" stroke-width="2"/><line x1="1372.22" y1="1699" x2="1372.22" y2="1690" stroke="#000" stroke-width="2"/><text x="1372.22" y="1727" font-size="21" font-family="'Liberation Serif', 'Times New Roman', serif" fill="#1a1a1a" text-anchor="middle" textLength="23.5" lengthAdjust="spacingAndGlyphs">0.6</text><line x1="1426.14" y1="1699" x2="1426.14" y2="1695.5" stroke="#000" stroke-width="2"/><line x1="1480.06" y1="1699" x2="1480.06" y2="1690" stroke="#000" stroke-width="2"/><text x="1480.06" y="1727" font-size="21" font-family="'Liberation Serif', 'Times New Roman', serif" fill="#1a1a1a" text-anchor="middle" textLength="23.5" lengthAdjust="spacingAndGlyphs">0.8</text><line x1="1533.98" y1="1699" x2="1533.98" y2="1695.5" stroke="#000" stroke-width="2"/><line x1="1587.9" y1="1699" x2="1587.9" y2="1690" stroke="#000" stroke-width="2"/><text x="1587.9" y="1727" font-size="21" font-family="'Liberation Serif', 'Times New Roman', serif" fill="#1a1a1a" text-anchor="middle" textLength="23.5" lengthAdjust="spacingAndGlyphs">1.0</text><line x1="995" y1="1263.5" x2="1004" y2="1263.5" stroke="#000" stroke-width="2"/><text x="983.5" y="1269.5" font-size="21" font-family="'Liberation Serif', 'Times New Roman', serif" fill="#1a1a1a" text-anchor="end" textLength="54" lengthAdjust="spacingAndGlyphs">-0.510</text><line x1="995" y1="1299.87" x2="998.5" y2="1299.87" stroke="#000" stroke-width="2"/><line x1="995" y1="1336.25" x2="1004" y2="1336.25" stroke="#000" stroke-width="2"/><text x="983.5" y="1342.25" font-size="21" font-family="'Liberation Serif', 'Times New Roman', serif" fill="#1a1a1a" text-anchor="end" textLength="54" lengthAdjust="spacingAndGlyphs">-0.515</text><line x1="995" y1="1372.62" x2="998.5" y2="1372.62" stroke="#000" stroke-width="2"/><line x1="995" y1="1409" x2="1004" y2="1409" stroke="#000" stroke-width="2"/><text x="983.5" y="1415" font-size="21" font-family="'Liberation Serif', 'Times New Roman', serif" fill="#1a1a1a" text-anchor="end" textLength="54" lengthAdjust="spacingAndGlyphs">-0.520</text><line x1="995" y1="1445.37" x2="998.5" y2="1445.37" stroke="#000" stroke-width="2"/><line x1="995" y1="1481.75" x2="1004" y2="1481.75" stroke="#000" stroke-width="2"/><text x="983.5" y="1487.75" font-size="21" font-family="'Liberation Serif', 'Times New Roman', serif" fill="#1a1a1a" text-anchor="end" textLength="54" lengthAdjust="spacingAndGlyphs">-0.525</text><line x1="995" y1="1518.12" x2="998.5" y2="1518.12" stroke="#000" stroke-width="2"/><line x1="995" y1="1554.5" x2="1004" y2="1554.5" stroke="#000" stroke-width="2"/><text x="983.5" y="1560.5" font-size="21" font-family="'Liberation Serif', 'Times New Roman', serif" fill="#1a1a1a" text-anchor="end" textLength="54" lengthAdjust="spacingAndGlyphs">-0.530</text><line x1="995" y1="1590.87" x2="998.5" y2="1590.87" stroke="#000" stroke-width="2"/><line x1="995" y1="1627.25" x2="1004" y2="1627.25" stroke="#000" stroke-width="2"/><text x="983.5" y="1633.25" font-size="21" font-family="'Liberation Serif', 'Times New Roman', serif" fill="#1a1a1a" text-anchor="end" textLength="54" lengthAdjust="spacingAndGlyphs">-0.535</text><line x1="995" y1="1663.62" x2="998.5" y2="1663.62" stroke="#000" stroke-width="2"/><text x="983.5" y="1706" font-size="21" font-family="'Liberation Serif', 'Times New Roman', serif" fill="#1a1a1a" text-anchor="end" textLength="54" lengthAdjust="spacingAndGlyphs">-0.540</text><text x="1651.5" y="1706" font-size="21" font-family="'Liberation Serif', 'Times New Roman', serif" fill="#1a1a1a" textLength="25" lengthAdjust="spacingAndGlyphs">1.0</text><line x1="1640.5" y1="1668.54" x2="1637" y2="1668.54" stroke="#000" stroke-width="2"/><line x1="1640.5" y1="1637.08" x2="1631.5" y2="1637.08" stroke="#000" stroke-width="2"/><text x="1651.5" y="1643.08" font-size="21" font-family="'Liberation Serif', 'Times New Roman', serif" fill="#1a1a1a" textLength="25" lengthAdjust="spacingAndGlyphs">1.2</text><line x1="1640.5" y1="1605.62" x2="1637" y2="1605.62" stroke="#000" stroke-width="2"/><line x1="1640.5" y1="1574.16" x2="1631.5" y2="1574.16" stroke="#000" stroke-width="2"/><text x="1651.5" y="1580.16" font-size="21" font-family="'Liberation Serif', 'Times New Roman', serif" fill="#1a1a1a" textLength="25" lengthAdjust="spacingAndGlyphs">1.4</text><line x1="1640.5" y1="1542.7" x2="1637" y2="1542.7" stroke="#000" stroke-width="2"/><line x1="1640.5" y1="1511.24" x2="1631.5" y2="1511.24" stroke="#000" stroke-width="2"/><text x="1651.5" y="1517.24" font-size="21" font-family="'Liberation Serif', 'Times New Roman', serif" fill="#1a1a1a" textLength="25" lengthAdjust="spacingAndGlyphs">1.6</text><line x1="1640.5" y1="1479.78" x2="1637" y2="1479.78" stroke="#000" stroke-width="2"/><line x1="1640.5" y1="1448.32" x2="1631.5" y2="1448.32" stroke="#000" stroke-width="2"/><text x="1651.5" y="1454.32" font-size="21" font-family="'Liberation Serif', 'Times New Roman', serif" fill="#1a1a1a" textLength="25" lengthAdjust="spacingAndGlyphs">1.8</text><line x1="1640.5" y1="1416.86" x2="1637" y2="1416.86" stroke="#000" stroke-width="2"/><line x1="1640.5" y1="1385.4" x2="1631.5" y2="1385.4" stroke="#000" stroke-width="2"/><text x="1651.5" y="1391.4" font-size="21" font-family="'Liberation Serif', 'Times New Roman', serif" fill="#1a1a1a" textLength="25" lengthAdjust="spacingAndGlyphs">2.0</text><line x1="1640.5" y1="1353.94" x2="1637" y2="1353.94" stroke="#000" stroke-width="2"/><line x1="1640.5" y1="1322.48" x2="1631.5" y2="1322.48" stroke="#000" stroke-width="2"/><text x="1651.5" y="1328.48" font-size="21" font-family="'Liberation Serif', 'Times New Roman', serif" fill="#1a1a1a" textLength="25" lengthAdjust="spacingAndGlyphs">2.2</text><line x1="1640.5" y1="1291.02" x2="1637" y2="1291.02" stroke="#000" stroke-width="2"/><line x1="1640.5" y1="1259.56" x2="1631.5" y2="1259.56" stroke="#000" stroke-width="2"/><text x="1651.5" y="1265.56" font-size="21" font-family="'Liberation Serif', 'Times New Roman', serif" fill="#1a1a1a" textLength="25" lengthAdjust="spacingAndGlyphs">2.4</text><line x1="1640.5" y1="1228.1" x2="1637" y2="1228.1" stroke="#000" stroke-width="2"/><text x="869" y="1256" font-size="52" font-family="'Liberation Serif', 'Times New Roman', serif" fill="#000" stroke="#000" stroke-width="0.3">(f)</text><text transform="translate(915,1462.5) rotate(-90)" x="0" y="0" font-size="26" font-family="'Liberation Serif', 'Times New Roman', serif" text-anchor="middle" stroke="#000" stroke-width="0.35" textLength="69.5" lengthAdjust="spacingAndGlyphs">E<tspan font-size="17" dy="7">corr</tspan><tspan dy="-7">/V</tspan></text><text transform="translate(1708.5,1462) rotate(-90)" x="0" y="0" font-size="25" font-family="'Liberation Serif', 'Times New Roman', serif" text-anchor="middle" stroke="#000" stroke-width="0.35" textLength="167" lengthAdjust="spacingAndGlyphs">J<tspan font-size="16" dy="7">corr</tspan><tspan dy="-7">/(μA • cm</tspan><tspan font-size="15" dy="-10">-2</tspan><tspan dy="10">)</tspan></text><text x="1255" y="1766" font-size="26" font-family="'Liberation Serif', 'Times New Roman', serif" fill="#000" stroke="#000" stroke-width="0.35" textLength="125" lengthAdjust="spacingAndGlyphs">Ce+Ti/wt.%</text><polyline points="1048.7,1365.35 1156.54,1598.15 1318.3,1656.35 1587.9,1263.5" fill="none" stroke="#008000" stroke-width="1.4" stroke-linejoin="round"/><rect x="1042.5" y="1359.55" width="12.4" height="11.6" fill="#008000" rx="1"/><rect x="1150.34" y="1592.35" width="12.4" height="11.6" fill="#008000" rx="1"/><rect x="1312.1" y="1650.55" width="12.4" height="11.6" fill="#008000" rx="1"/><rect x="1581.7" y="1257.7" width="12.4" height="11.6" fill="#008000" rx="1"/><polyline points="1048.7,1284.73 1156.54,1397.98 1318.3,1621.35 1587.9,1467.2" fill="none" stroke="#ff8000" stroke-width="1.4" stroke-linejoin="round"/><circle cx="1048.7" cy="1284.73" r="6.4" fill="#ff8000"/><circle cx="1156.54" cy="1397.98" r="6.4" fill="#ff8000"/><circle cx="1318.3" cy="1621.35" r="6.4" fill="#ff8000"/><circle cx="1587.9" cy="1467.2" r="6.4" fill="#ff8000"/><text x="1028.5" y="1277" font-size="26" font-family="'Liberation Serif', 'Times New Roman', serif" fill="#000" stroke="#000" stroke-width="0.4" textLength="44" lengthAdjust="spacingAndGlyphs">2.32</text><text x="1019" y="1360" font-size="26" font-family="'Liberation Serif', 'Times New Roman', serif" fill="#000" stroke="#000" stroke-width="0.4" textLength="65" lengthAdjust="spacingAndGlyphs">-0.517</text><text x="1171" y="1404.5" font-size="26" font-family="'Liberation Serif', 'Times New Roman', serif" fill="#000" stroke="#000" stroke-width="0.4" textLength="43" lengthAdjust="spacingAndGlyphs">1.96</text><text x="1123.5" y="1634" font-size="26" font-family="'Liberation Serif', 'Times New Roman', serif" fill="#000" stroke="#000" stroke-width="0.4" textLength="66.5" lengthAdjust="spacingAndGlyphs">-0.533</text><text x="1306.5" y="1604" font-size="26" font-family="'Liberation Serif', 'Times New Roman', serif" fill="#000" stroke="#000" stroke-width="0.4" textLength="43.5" lengthAdjust="spacingAndGlyphs">1.25</text><text x="1288.5" y="1687" font-size="26" font-family="'Liberation Serif', 'Times New Roman', serif" fill="#000" stroke="#000" stroke-width="0.4" textLength="66.5" lengthAdjust="spacingAndGlyphs">-0.537</text><text x="1565" y="1254" font-size="26" font-family="'Liberation Serif', 'Times New Roman', serif" fill="#000" stroke="#000" stroke-width="0.4" textLength="52.5" lengthAdjust="spacingAndGlyphs">-0.51</text><text x="1569" y="1459" font-size="26" font-family="'Liberation Serif', 'Times New Roman', serif" fill="#000" stroke="#000" stroke-width="0.4" textLength="42.5" lengthAdjust="spacingAndGlyphs">1.74</text><rect x="1230" y="1235" width="285" height="68.5" fill="#fff" stroke="#1a1a1a" stroke-width="1.5"/><line x1="1242.5" y1="1256" x2="1299" y2="1256" stroke="#008000" stroke-width="1.4"/><rect x="1263.8" y="1250.2" width="12.4" height="11.6" fill="#008000" rx="1"/><text x="1305" y="1264.2" font-size="25.5" font-family="'Liberation Serif', 'Times New Roman', serif" fill="#000" stroke="#000" stroke-width="0.4" textLength="196.5" lengthAdjust="spacingAndGlyphs">Corrosion potential</text><line x1="1242.5" y1="1287.5" x2="1299" y2="1287.5" stroke="#ff8000" stroke-width="1.4"/><circle cx="1270" cy="1287.5" r="6.4" fill="#ff8000"/><text x="1305" y="1295.7" font-size="25.5" font-family="'Liberation Serif', 'Times New Roman', serif" fill="#000" stroke="#000" stroke-width="0.4" textLength="181" lengthAdjust="spacingAndGlyphs">Corrosion current</text></svg></body></html>
